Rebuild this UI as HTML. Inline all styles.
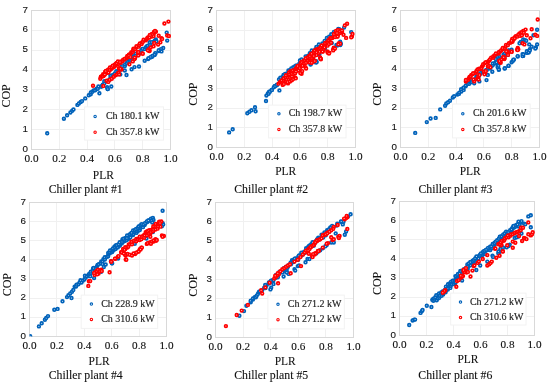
<!DOCTYPE html>
<html><head><meta charset="utf-8"><style>
html,body{margin:0;padding:0;background:#fff;width:550px;height:387px;overflow:hidden}
svg{display:block}
.yt{font-family:"Liberation Sans",sans-serif;font-size:9.8px;fill:#111;stroke:#111;stroke-width:0.1px}
.xt{font-family:"Liberation Serif",serif;font-size:11.2px;fill:#111;stroke:#111;stroke-width:0.12px}
.ax{font-family:"Liberation Serif",serif;font-size:11.5px;fill:#111;stroke:#111;stroke-width:0.08px}
.ti{font-family:"Liberation Serif",serif;font-size:11.7px;fill:#111;stroke:#111;stroke-width:0.1px}
.lg{font-family:"Liberation Serif",serif;font-size:10px;fill:#222;stroke:#222;stroke-width:0.15px}
circle{fill:#fff;stroke-width:1.1}
.m{stroke-width:1.7}
</style></head><body>
<svg width="550" height="387" viewBox="0 0 550 387">
<line x1="31.5" x2="170.5" y1="129.5" y2="129.5" stroke="#f0f0f0"/>
<line x1="31.5" x2="170.5" y1="109.5" y2="109.5" stroke="#f0f0f0"/>
<line x1="31.5" x2="170.5" y1="89.5" y2="89.5" stroke="#f0f0f0"/>
<line x1="31.5" x2="170.5" y1="70.5" y2="70.5" stroke="#f0f0f0"/>
<line x1="31.5" x2="170.5" y1="50.5" y2="50.5" stroke="#f0f0f0"/>
<line x1="31.5" x2="170.5" y1="30.5" y2="30.5" stroke="#f0f0f0"/>
<line x1="59.5" x2="59.5" y1="10.5" y2="149.5" stroke="#f0f0f0"/>
<line x1="87.5" x2="87.5" y1="10.5" y2="149.5" stroke="#f0f0f0"/>
<line x1="114.5" x2="114.5" y1="10.5" y2="149.5" stroke="#f0f0f0"/>
<line x1="142.5" x2="142.5" y1="10.5" y2="149.5" stroke="#f0f0f0"/>
<rect x="31.5" y="10.5" width="139" height="139" fill="none" stroke="#d9d9d9"/>
<text x="27.9" y="151.6" text-anchor="end" class="yt">0</text>
<text x="27.9" y="131.74" text-anchor="end" class="yt">1</text>
<text x="27.9" y="111.89" text-anchor="end" class="yt">2</text>
<text x="27.9" y="92.03" text-anchor="end" class="yt">3</text>
<text x="27.9" y="72.17" text-anchor="end" class="yt">4</text>
<text x="27.9" y="52.31" text-anchor="end" class="yt">5</text>
<text x="27.9" y="32.46" text-anchor="end" class="yt">6</text>
<text x="27.9" y="12.6" text-anchor="end" class="yt">7</text>
<text x="31.5" y="162.2" text-anchor="middle" class="xt">0.0</text>
<text x="59.3" y="162.2" text-anchor="middle" class="xt">0.2</text>
<text x="87.1" y="162.2" text-anchor="middle" class="xt">0.4</text>
<text x="114.9" y="162.2" text-anchor="middle" class="xt">0.6</text>
<text x="142.7" y="162.2" text-anchor="middle" class="xt">0.8</text>
<text x="170.5" y="162.2" text-anchor="middle" class="xt">1.0</text>
<text transform="translate(10.4,95.9) rotate(-90)" text-anchor="middle" class="ax" textLength="23.3" lengthAdjust="spacingAndGlyphs">COP</text>
<text x="103.3" y="179.2" text-anchor="middle" class="ax">PLR</text>
<text x="85.7" y="192.6" text-anchor="middle" class="ti" textLength="74" lengthAdjust="spacingAndGlyphs">Chiller plant #1</text>
<clipPath id="c0"><rect x="31.5" y="7.5" width="142" height="142"/></clipPath><g clip-path="url(#c0)">
<circle cx="47.2" cy="133.3" r="1.35" stroke="#0062ba" class="m"/>
<circle cx="63.9" cy="118.8" r="1.35" stroke="#0062ba" class="m"/>
<circle cx="67.1" cy="115.2" r="1.35" stroke="#0062ba" class="m"/>
<circle cx="70.4" cy="112.5" r="1.35" stroke="#0062ba" class="m"/>
<circle cx="72.2" cy="110.7" r="1.35" stroke="#0062ba" class="m"/>
<circle cx="73.5" cy="109.4" r="1.35" stroke="#0062ba" class="m"/>
<circle cx="77.4" cy="104.9" r="1.35" stroke="#0062ba" class="m"/>
<circle cx="78.9" cy="103.5" r="1.35" stroke="#0062ba" class="m"/>
<circle cx="80.7" cy="102" r="1.35" stroke="#0062ba" class="m"/>
<circle cx="82" cy="101.1" r="1.35" stroke="#0062ba" class="m"/>
<circle cx="85.2" cy="98.4" r="1.35" stroke="#0062ba" class="m"/>
<circle cx="88.8" cy="95.3" r="1.35" stroke="#0062ba" class="m"/>
<circle cx="90.71" cy="94.36" r="1.35" stroke="#0062ba" class="m"/>
<circle cx="90.77" cy="92.52" r="1.35" stroke="#0062ba" class="m"/>
<circle cx="92.34" cy="91.79" r="1.35" stroke="#0062ba" class="m"/>
<circle cx="93.62" cy="90.4" r="1.35" stroke="#0062ba" class="m"/>
<circle cx="95.13" cy="90.2" r="1.35" stroke="#0062ba" class="m"/>
<circle cx="96.56" cy="88.77" r="1.35" stroke="#0062ba" class="m"/>
<circle cx="97.78" cy="88.69" r="1.35" stroke="#0062ba" class="m"/>
<circle cx="98.4" cy="86.38" r="1.35" stroke="#0062ba" class="m"/>
<circle cx="101.15" cy="86.81" r="1.35" stroke="#0062ba" class="m"/>
<circle cx="102.19" cy="85.69" r="1.35" stroke="#0062ba" class="m"/>
<circle cx="102.76" cy="84.62" r="1.35" stroke="#0062ba" class="m"/>
<circle cx="104.37" cy="83.16" r="1.35" stroke="#0062ba" class="m"/>
<circle cx="104.28" cy="81.14" r="1.35" stroke="#0062ba" class="m"/>
<circle cx="106.39" cy="81.28" r="1.35" stroke="#0062ba" class="m"/>
<circle cx="108.63" cy="80.77" r="1.35" stroke="#0062ba" class="m"/>
<circle cx="109.37" cy="79.81" r="1.35" stroke="#0062ba" class="m"/>
<circle cx="110.4" cy="78.8" r="1.35" stroke="#0062ba" class="m"/>
<circle cx="110.39" cy="75.76" r="1.35" stroke="#0062ba" class="m"/>
<circle cx="112.55" cy="75.21" r="1.35" stroke="#0062ba" class="m"/>
<circle cx="114.43" cy="74.46" r="1.35" stroke="#0062ba" class="m"/>
<circle cx="114.75" cy="73.49" r="1.35" stroke="#0062ba" class="m"/>
<circle cx="116.22" cy="71.14" r="1.35" stroke="#0062ba" class="m"/>
<circle cx="118.29" cy="71.6" r="1.35" stroke="#0062ba" class="m"/>
<circle cx="118.89" cy="69.85" r="1.35" stroke="#0062ba" class="m"/>
<circle cx="120.92" cy="69.56" r="1.35" stroke="#0062ba" class="m"/>
<circle cx="121.65" cy="66.99" r="1.35" stroke="#0062ba" class="m"/>
<circle cx="122.13" cy="66.1" r="1.35" stroke="#0062ba" class="m"/>
<circle cx="124.84" cy="66.01" r="1.35" stroke="#0062ba" class="m"/>
<circle cx="125.1" cy="64.35" r="1.35" stroke="#0062ba" class="m"/>
<circle cx="126.78" cy="62.93" r="1.35" stroke="#0062ba" class="m"/>
<circle cx="128.09" cy="61.81" r="1.35" stroke="#0062ba" class="m"/>
<circle cx="129.55" cy="60.81" r="1.35" stroke="#0062ba" class="m"/>
<circle cx="130.23" cy="59.67" r="1.35" stroke="#0062ba" class="m"/>
<circle cx="131.36" cy="58.49" r="1.35" stroke="#0062ba" class="m"/>
<circle cx="132.42" cy="57.26" r="1.35" stroke="#0062ba" class="m"/>
<circle cx="133.19" cy="56.24" r="1.35" stroke="#0062ba" class="m"/>
<circle cx="135.59" cy="55.95" r="1.35" stroke="#0062ba" class="m"/>
<circle cx="135.7" cy="53.77" r="1.35" stroke="#0062ba" class="m"/>
<circle cx="138.57" cy="54.25" r="1.35" stroke="#0062ba" class="m"/>
<circle cx="139.87" cy="53.03" r="1.35" stroke="#0062ba" class="m"/>
<circle cx="141.24" cy="52.18" r="1.35" stroke="#0062ba" class="m"/>
<circle cx="141.25" cy="50.22" r="1.35" stroke="#0062ba" class="m"/>
<circle cx="142.41" cy="48.83" r="1.35" stroke="#0062ba" class="m"/>
<circle cx="144.75" cy="48.97" r="1.35" stroke="#0062ba" class="m"/>
<circle cx="145.59" cy="47.33" r="1.35" stroke="#0062ba" class="m"/>
<circle cx="146.86" cy="46.26" r="1.35" stroke="#0062ba" class="m"/>
<circle cx="147.87" cy="45.72" r="1.35" stroke="#0062ba" class="m"/>
<circle cx="149.97" cy="44.92" r="1.35" stroke="#0062ba" class="m"/>
<circle cx="149.67" cy="42.17" r="1.35" stroke="#0062ba" class="m"/>
<circle cx="151.65" cy="42.12" r="1.35" stroke="#0062ba" class="m"/>
<circle cx="153.73" cy="41.85" r="1.35" stroke="#0062ba" class="m"/>
<circle cx="154.68" cy="40.76" r="1.35" stroke="#0062ba" class="m"/>
<circle cx="120.3" cy="74.4" r="1.35" stroke="#0062ba" class="m"/>
<circle cx="126.5" cy="75" r="1.35" stroke="#0062ba" class="m"/>
<circle cx="124.8" cy="70.5" r="1.35" stroke="#0062ba" class="m"/>
<circle cx="131.6" cy="69.3" r="1.35" stroke="#0062ba" class="m"/>
<circle cx="134.5" cy="67.1" r="1.35" stroke="#0062ba" class="m"/>
<circle cx="139" cy="66.5" r="1.35" stroke="#0062ba" class="m"/>
<circle cx="144.7" cy="60.8" r="1.35" stroke="#0062ba" class="m"/>
<circle cx="148.1" cy="59.1" r="1.35" stroke="#0062ba" class="m"/>
<circle cx="150.4" cy="57.4" r="1.35" stroke="#0062ba" class="m"/>
<circle cx="152.1" cy="56.8" r="1.35" stroke="#0062ba" class="m"/>
<circle cx="154.4" cy="55.1" r="1.35" stroke="#0062ba" class="m"/>
<circle cx="155.5" cy="53.4" r="1.35" stroke="#0062ba" class="m"/>
<circle cx="158.9" cy="51.1" r="1.35" stroke="#0062ba" class="m"/>
<circle cx="160.6" cy="50.6" r="1.35" stroke="#0062ba" class="m"/>
<circle cx="163.2" cy="48" r="1.35" stroke="#0062ba" class="m"/>
<circle cx="161" cy="49.1" r="1.35" stroke="#0062ba" class="m"/>
<circle cx="158.7" cy="50.2" r="1.35" stroke="#0062ba" class="m"/>
<circle cx="161.5" cy="51.4" r="1.35" stroke="#0062ba" class="m"/>
<circle cx="155.3" cy="53.1" r="1.35" stroke="#0062ba" class="m"/>
<circle cx="154.7" cy="54.8" r="1.35" stroke="#0062ba" class="m"/>
<circle cx="152.4" cy="55.9" r="1.35" stroke="#0062ba" class="m"/>
<circle cx="150.7" cy="57.1" r="1.35" stroke="#0062ba" class="m"/>
<circle cx="148.5" cy="58.2" r="1.35" stroke="#0062ba" class="m"/>
<circle cx="99.4" cy="93.2" r="1.35" stroke="#0062ba" class="m"/>
<circle cx="107.6" cy="89.1" r="1.35" stroke="#0062ba" class="m"/>
<circle cx="111.3" cy="86.5" r="1.35" stroke="#0062ba" class="m"/>
<circle cx="107.1" cy="87.2" r="1.35" stroke="#0062ba" class="m"/>
<circle cx="107.8" cy="89.1" r="1.35" stroke="#0062ba" class="m"/>
<circle cx="135.4" cy="55.9" r="1.35" stroke="#0062ba" class="m"/>
<circle cx="134.3" cy="57.6" r="1.35" stroke="#0062ba" class="m"/>
<circle cx="166.7" cy="32.6" r="1.35" stroke="#0062ba" class="m"/>
<circle cx="167.2" cy="40.6" r="1.35" stroke="#0062ba" class="m"/>
<circle cx="155.9" cy="39.4" r="1.35" stroke="#0062ba" class="m"/>
<circle cx="155.3" cy="40.6" r="1.35" stroke="#0062ba" class="m"/>
<circle cx="154.2" cy="41.7" r="1.35" stroke="#0062ba" class="m"/>
<circle cx="156.4" cy="41.2" r="1.35" stroke="#0062ba" class="m"/>
<circle cx="100.26" cy="78.77" r="1.35" stroke="#ff0000" class="m"/>
<circle cx="100.82" cy="76.65" r="1.35" stroke="#ff0000" class="m"/>
<circle cx="101.93" cy="76.32" r="1.35" stroke="#ff0000" class="m"/>
<circle cx="103.49" cy="76.02" r="1.35" stroke="#ff0000" class="m"/>
<circle cx="103.11" cy="74.18" r="1.35" stroke="#ff0000" class="m"/>
<circle cx="105.11" cy="73.72" r="1.35" stroke="#ff0000" class="m"/>
<circle cx="105.47" cy="72.22" r="1.35" stroke="#ff0000" class="m"/>
<circle cx="107.27" cy="72.81" r="1.35" stroke="#ff0000" class="m"/>
<circle cx="108.45" cy="72.5" r="1.35" stroke="#ff0000" class="m"/>
<circle cx="108.6" cy="69.8" r="1.35" stroke="#ff0000" class="m"/>
<circle cx="109.77" cy="70.29" r="1.35" stroke="#ff0000" class="m"/>
<circle cx="111.11" cy="68.84" r="1.35" stroke="#ff0000" class="m"/>
<circle cx="111.73" cy="68.49" r="1.35" stroke="#ff0000" class="m"/>
<circle cx="112.35" cy="67.47" r="1.35" stroke="#ff0000" class="m"/>
<circle cx="113.96" cy="67.02" r="1.35" stroke="#ff0000" class="m"/>
<circle cx="114.48" cy="65.9" r="1.35" stroke="#ff0000" class="m"/>
<circle cx="115.78" cy="65.56" r="1.35" stroke="#ff0000" class="m"/>
<circle cx="116.24" cy="64" r="1.35" stroke="#ff0000" class="m"/>
<circle cx="118.28" cy="63.95" r="1.35" stroke="#ff0000" class="m"/>
<circle cx="118.67" cy="62.63" r="1.35" stroke="#ff0000" class="m"/>
<circle cx="120.79" cy="62.87" r="1.35" stroke="#ff0000" class="m"/>
<circle cx="120.54" cy="61.59" r="1.35" stroke="#ff0000" class="m"/>
<circle cx="122.43" cy="61.13" r="1.35" stroke="#ff0000" class="m"/>
<circle cx="123.15" cy="59.72" r="1.35" stroke="#ff0000" class="m"/>
<circle cx="124.43" cy="59.38" r="1.35" stroke="#ff0000" class="m"/>
<circle cx="125" cy="58.68" r="1.35" stroke="#ff0000" class="m"/>
<circle cx="126.71" cy="58.03" r="1.35" stroke="#ff0000" class="m"/>
<circle cx="127.13" cy="56.96" r="1.35" stroke="#ff0000" class="m"/>
<circle cx="127.34" cy="55.88" r="1.35" stroke="#ff0000" class="m"/>
<circle cx="128.91" cy="54.76" r="1.35" stroke="#ff0000" class="m"/>
<circle cx="129.68" cy="54.37" r="1.35" stroke="#ff0000" class="m"/>
<circle cx="131.05" cy="53.31" r="1.35" stroke="#ff0000" class="m"/>
<circle cx="131.39" cy="52.2" r="1.35" stroke="#ff0000" class="m"/>
<circle cx="132.9" cy="51.69" r="1.35" stroke="#ff0000" class="m"/>
<circle cx="133.17" cy="50.16" r="1.35" stroke="#ff0000" class="m"/>
<circle cx="133.46" cy="48.69" r="1.35" stroke="#ff0000" class="m"/>
<circle cx="135.19" cy="49.01" r="1.35" stroke="#ff0000" class="m"/>
<circle cx="136.42" cy="47.42" r="1.35" stroke="#ff0000" class="m"/>
<circle cx="136.47" cy="46.16" r="1.35" stroke="#ff0000" class="m"/>
<circle cx="138.68" cy="46.65" r="1.35" stroke="#ff0000" class="m"/>
<circle cx="139.22" cy="44.93" r="1.35" stroke="#ff0000" class="m"/>
<circle cx="139.84" cy="43.53" r="1.35" stroke="#ff0000" class="m"/>
<circle cx="141.65" cy="44.09" r="1.35" stroke="#ff0000" class="m"/>
<circle cx="141.99" cy="42.39" r="1.35" stroke="#ff0000" class="m"/>
<circle cx="142.93" cy="41.86" r="1.35" stroke="#ff0000" class="m"/>
<circle cx="143.58" cy="39.77" r="1.35" stroke="#ff0000" class="m"/>
<circle cx="145.62" cy="40.4" r="1.35" stroke="#ff0000" class="m"/>
<circle cx="146.57" cy="39.38" r="1.35" stroke="#ff0000" class="m"/>
<circle cx="147.21" cy="38.21" r="1.35" stroke="#ff0000" class="m"/>
<circle cx="147.94" cy="37.34" r="1.35" stroke="#ff0000" class="m"/>
<circle cx="149.2" cy="37.65" r="1.35" stroke="#ff0000" class="m"/>
<circle cx="149.66" cy="35.53" r="1.35" stroke="#ff0000" class="m"/>
<circle cx="150.98" cy="35.37" r="1.35" stroke="#ff0000" class="m"/>
<circle cx="151.72" cy="34.48" r="1.35" stroke="#ff0000" class="m"/>
<circle cx="153.2" cy="34.18" r="1.35" stroke="#ff0000" class="m"/>
<circle cx="154.01" cy="33" r="1.35" stroke="#ff0000" class="m"/>
<circle cx="154.33" cy="32.05" r="1.35" stroke="#ff0000" class="m"/>
<circle cx="155.93" cy="31.68" r="1.35" stroke="#ff0000" class="m"/>
<circle cx="102.75" cy="76.29" r="1.35" stroke="#ff0000" class="m"/>
<circle cx="103.98" cy="75.24" r="1.35" stroke="#ff0000" class="m"/>
<circle cx="104.87" cy="74.52" r="1.35" stroke="#ff0000" class="m"/>
<circle cx="105.21" cy="71.76" r="1.35" stroke="#ff0000" class="m"/>
<circle cx="105.86" cy="70.96" r="1.35" stroke="#ff0000" class="m"/>
<circle cx="108.04" cy="69.76" r="1.35" stroke="#ff0000" class="m"/>
<circle cx="109.41" cy="69.74" r="1.35" stroke="#ff0000" class="m"/>
<circle cx="109.94" cy="67.46" r="1.35" stroke="#ff0000" class="m"/>
<circle cx="111.78" cy="67.26" r="1.35" stroke="#ff0000" class="m"/>
<circle cx="112.7" cy="65.77" r="1.35" stroke="#ff0000" class="m"/>
<circle cx="114.67" cy="64.79" r="1.35" stroke="#ff0000" class="m"/>
<circle cx="115.68" cy="64.06" r="1.35" stroke="#ff0000" class="m"/>
<circle cx="116.61" cy="63.07" r="1.35" stroke="#ff0000" class="m"/>
<circle cx="117.91" cy="61.46" r="1.35" stroke="#ff0000" class="m"/>
<circle cx="120" cy="61.99" r="1.35" stroke="#ff0000" class="m"/>
<circle cx="93" cy="85.8" r="1.35" stroke="#ff0000" class="m"/>
<circle cx="103.3" cy="86" r="1.35" stroke="#ff0000" class="m"/>
<circle cx="106.6" cy="80.8" r="1.35" stroke="#ff0000" class="m"/>
<circle cx="108.2" cy="81.9" r="1.35" stroke="#ff0000" class="m"/>
<circle cx="109.7" cy="79.8" r="1.35" stroke="#ff0000" class="m"/>
<circle cx="111.8" cy="78.8" r="1.35" stroke="#ff0000" class="m"/>
<circle cx="113.8" cy="76.7" r="1.35" stroke="#ff0000" class="m"/>
<circle cx="115.4" cy="75.2" r="1.35" stroke="#ff0000" class="m"/>
<circle cx="116.9" cy="74.6" r="1.35" stroke="#ff0000" class="m"/>
<circle cx="118" cy="73.1" r="1.35" stroke="#ff0000" class="m"/>
<circle cx="119" cy="68.4" r="1.35" stroke="#ff0000" class="m"/>
<circle cx="120.6" cy="69" r="1.35" stroke="#ff0000" class="m"/>
<circle cx="121.6" cy="69.5" r="1.35" stroke="#ff0000" class="m"/>
<circle cx="119.1" cy="68.2" r="1.35" stroke="#ff0000" class="m"/>
<circle cx="120.3" cy="68.8" r="1.35" stroke="#ff0000" class="m"/>
<circle cx="118.6" cy="72.7" r="1.35" stroke="#ff0000" class="m"/>
<circle cx="119.1" cy="74.4" r="1.35" stroke="#ff0000" class="m"/>
<circle cx="129.4" cy="64.2" r="1.35" stroke="#ff0000" class="m"/>
<circle cx="132.8" cy="61.4" r="1.35" stroke="#ff0000" class="m"/>
<circle cx="135.1" cy="58" r="1.35" stroke="#ff0000" class="m"/>
<circle cx="134.5" cy="59.1" r="1.35" stroke="#ff0000" class="m"/>
<circle cx="138.5" cy="55.1" r="1.35" stroke="#ff0000" class="m"/>
<circle cx="137.9" cy="52.3" r="1.35" stroke="#ff0000" class="m"/>
<circle cx="142.4" cy="53.4" r="1.35" stroke="#ff0000" class="m"/>
<circle cx="149.3" cy="51.1" r="1.35" stroke="#ff0000" class="m"/>
<circle cx="138.2" cy="52" r="1.35" stroke="#ff0000" class="m"/>
<circle cx="142.8" cy="53.7" r="1.35" stroke="#ff0000" class="m"/>
<circle cx="138.2" cy="55.4" r="1.35" stroke="#ff0000" class="m"/>
<circle cx="134.8" cy="57.6" r="1.35" stroke="#ff0000" class="m"/>
<circle cx="129.1" cy="55.4" r="1.35" stroke="#ff0000" class="m"/>
<circle cx="130.3" cy="57.1" r="1.35" stroke="#ff0000" class="m"/>
<circle cx="154.2" cy="42.9" r="1.35" stroke="#ff0000" class="m"/>
<circle cx="153.6" cy="46.3" r="1.35" stroke="#ff0000" class="m"/>
<circle cx="150.7" cy="47.4" r="1.35" stroke="#ff0000" class="m"/>
<circle cx="149" cy="49.1" r="1.35" stroke="#ff0000" class="m"/>
<circle cx="149.6" cy="50.8" r="1.35" stroke="#ff0000" class="m"/>
<circle cx="147.9" cy="50.2" r="1.35" stroke="#ff0000" class="m"/>
<circle cx="158.1" cy="44.6" r="1.35" stroke="#ff0000" class="m"/>
<circle cx="160.4" cy="42.3" r="1.35" stroke="#ff0000" class="m"/>
<circle cx="161.5" cy="38.3" r="1.35" stroke="#ff0000" class="m"/>
<circle cx="162.1" cy="38.9" r="1.35" stroke="#ff0000" class="m"/>
<circle cx="158.7" cy="35.7" r="1.35" stroke="#ff0000" class="m"/>
<circle cx="167.2" cy="35.5" r="1.35" stroke="#ff0000" class="m"/>
<circle cx="168.9" cy="36" r="1.35" stroke="#ff0000" class="m"/>
<circle cx="168.4" cy="21.6" r="1.35" stroke="#ff0000" class="m"/>
<circle cx="164.4" cy="23.5" r="1.35" stroke="#ff0000" class="m"/>
<circle cx="149.6" cy="37.2" r="1.35" stroke="#ff0000" class="m"/>
<circle cx="151.9" cy="36.6" r="1.35" stroke="#ff0000" class="m"/>
<circle cx="153.6" cy="36" r="1.35" stroke="#ff0000" class="m"/>
<circle cx="152" cy="34" r="1.35" stroke="#ff0000" class="m"/>
<circle cx="154" cy="32" r="1.35" stroke="#ff0000" class="m"/>
<circle cx="150" cy="35" r="1.35" stroke="#ff0000" class="m"/>
<circle cx="155" cy="31" r="1.35" stroke="#ff0000" class="m"/>
</g>
<rect x="84.6" y="106.9" width="78.9" height="33.2" fill="#fff" stroke="#f2f2f2"/>
<circle cx="95.1" cy="116.4" r="1.2" stroke="#0062ba" stroke-width="1.1"/>
<circle cx="95.1" cy="132.2" r="1.2" stroke="#ff0000" stroke-width="1.1"/>
<text x="105.9" y="119.3" class="lg">Ch 180.1 kW</text>
<text x="105.9" y="135.2" class="lg">Ch 357.8 kW</text>
<line x1="216.5" x2="355.5" y1="127.5" y2="127.5" stroke="#f0f0f0"/>
<line x1="216.5" x2="355.5" y1="108.5" y2="108.5" stroke="#f0f0f0"/>
<line x1="216.5" x2="355.5" y1="88.5" y2="88.5" stroke="#f0f0f0"/>
<line x1="216.5" x2="355.5" y1="69.5" y2="69.5" stroke="#f0f0f0"/>
<line x1="216.5" x2="355.5" y1="49.5" y2="49.5" stroke="#f0f0f0"/>
<line x1="216.5" x2="355.5" y1="30.5" y2="30.5" stroke="#f0f0f0"/>
<line x1="244.5" x2="244.5" y1="10.5" y2="147.5" stroke="#f0f0f0"/>
<line x1="272.5" x2="272.5" y1="10.5" y2="147.5" stroke="#f0f0f0"/>
<line x1="299.5" x2="299.5" y1="10.5" y2="147.5" stroke="#f0f0f0"/>
<line x1="327.5" x2="327.5" y1="10.5" y2="147.5" stroke="#f0f0f0"/>
<rect x="216.5" y="10.5" width="139" height="137" fill="none" stroke="#d9d9d9"/>
<text x="212.9" y="149.6" text-anchor="end" class="yt">0</text>
<text x="212.9" y="130.03" text-anchor="end" class="yt">1</text>
<text x="212.9" y="110.46" text-anchor="end" class="yt">2</text>
<text x="212.9" y="90.89" text-anchor="end" class="yt">3</text>
<text x="212.9" y="71.31" text-anchor="end" class="yt">4</text>
<text x="212.9" y="51.74" text-anchor="end" class="yt">5</text>
<text x="212.9" y="32.17" text-anchor="end" class="yt">6</text>
<text x="212.9" y="12.6" text-anchor="end" class="yt">7</text>
<text x="216.5" y="160.2" text-anchor="middle" class="xt">0.0</text>
<text x="244.3" y="160.2" text-anchor="middle" class="xt">0.2</text>
<text x="272.1" y="160.2" text-anchor="middle" class="xt">0.4</text>
<text x="299.9" y="160.2" text-anchor="middle" class="xt">0.6</text>
<text x="327.7" y="160.2" text-anchor="middle" class="xt">0.8</text>
<text x="355.5" y="160.2" text-anchor="middle" class="xt">1.0</text>
<text transform="translate(196.5,94.2) rotate(-90)" text-anchor="middle" class="ax" textLength="23.3" lengthAdjust="spacingAndGlyphs">COP</text>
<text x="285.75" y="175.1" text-anchor="middle" class="ax">PLR</text>
<text x="271.2" y="192.6" text-anchor="middle" class="ti" textLength="74" lengthAdjust="spacingAndGlyphs">Chiller plant #2</text>
<clipPath id="c1"><rect x="216.5" y="7.5" width="142" height="140"/></clipPath><g clip-path="url(#c1)">
<circle cx="229.1" cy="132.4" r="1.35" stroke="#0062ba" class="m"/>
<circle cx="232.7" cy="129.3" r="1.35" stroke="#0062ba" class="m"/>
<circle cx="247.3" cy="113.2" r="1.35" stroke="#0062ba" class="m"/>
<circle cx="249.4" cy="111.7" r="1.35" stroke="#0062ba" class="m"/>
<circle cx="251.5" cy="110.3" r="1.35" stroke="#0062ba" class="m"/>
<circle cx="255" cy="107.2" r="1.35" stroke="#0062ba" class="m"/>
<circle cx="255.6" cy="111.3" r="1.35" stroke="#0062ba" class="m"/>
<circle cx="266" cy="101" r="1.35" stroke="#0062ba" class="m"/>
<circle cx="266.4" cy="95.6" r="1.35" stroke="#0062ba" class="m"/>
<circle cx="267.8" cy="93.5" r="1.35" stroke="#0062ba" class="m"/>
<circle cx="269.1" cy="91.7" r="1.35" stroke="#0062ba" class="m"/>
<circle cx="271.6" cy="90" r="1.35" stroke="#0062ba" class="m"/>
<circle cx="274.7" cy="86.3" r="1.35" stroke="#0062ba" class="m"/>
<circle cx="276.7" cy="85.2" r="1.35" stroke="#0062ba" class="m"/>
<circle cx="279.4" cy="90.4" r="1.35" stroke="#0062ba" class="m"/>
<circle cx="268.6" cy="93.8" r="1.35" stroke="#0062ba" class="m"/>
<circle cx="269.9" cy="91.8" r="1.35" stroke="#0062ba" class="m"/>
<circle cx="271.9" cy="89.9" r="1.35" stroke="#0062ba" class="m"/>
<circle cx="273.8" cy="87.3" r="1.35" stroke="#0062ba" class="m"/>
<circle cx="275.1" cy="86" r="1.35" stroke="#0062ba" class="m"/>
<circle cx="277" cy="84.7" r="1.35" stroke="#0062ba" class="m"/>
<circle cx="310.6" cy="64" r="1.35" stroke="#0062ba" class="m"/>
<circle cx="313.9" cy="60.8" r="1.35" stroke="#0062ba" class="m"/>
<circle cx="316.4" cy="62.1" r="1.35" stroke="#0062ba" class="m"/>
<circle cx="311.9" cy="62.1" r="1.35" stroke="#0062ba" class="m"/>
<circle cx="299.7" cy="67.3" r="1.35" stroke="#0062ba" class="m"/>
<circle cx="301.6" cy="65.3" r="1.35" stroke="#0062ba" class="m"/>
<circle cx="344.1" cy="27.6" r="1.35" stroke="#0062ba" class="m"/>
<circle cx="351.2" cy="32.1" r="1.35" stroke="#0062ba" class="m"/>
<circle cx="331.8" cy="43.1" r="1.35" stroke="#0062ba" class="m"/>
<circle cx="336.4" cy="45" r="1.35" stroke="#0062ba" class="m"/>
<circle cx="340.2" cy="41.8" r="1.35" stroke="#0062ba" class="m"/>
<circle cx="340.9" cy="43.7" r="1.35" stroke="#0062ba" class="m"/>
<circle cx="324.7" cy="48.2" r="1.35" stroke="#0062ba" class="m"/>
<circle cx="322.8" cy="48.9" r="1.35" stroke="#0062ba" class="m"/>
<circle cx="318.9" cy="54" r="1.35" stroke="#0062ba" class="m"/>
<circle cx="316.3" cy="61.2" r="1.35" stroke="#0062ba" class="m"/>
<circle cx="315.7" cy="62.4" r="1.35" stroke="#0062ba" class="m"/>
<circle cx="313.1" cy="57.9" r="1.35" stroke="#0062ba" class="m"/>
<circle cx="339.6" cy="30.2" r="1.35" stroke="#0062ba" class="m"/>
<circle cx="338.3" cy="28.9" r="1.35" stroke="#0062ba" class="m"/>
<circle cx="319.5" cy="53.9" r="1.35" stroke="#0062ba" class="m"/>
<circle cx="322.5" cy="48.6" r="1.35" stroke="#0062ba" class="m"/>
<circle cx="324.9" cy="48.6" r="1.35" stroke="#0062ba" class="m"/>
<circle cx="316.5" cy="62.2" r="1.35" stroke="#0062ba" class="m"/>
<circle cx="310.6" cy="64.6" r="1.35" stroke="#0062ba" class="m"/>
<circle cx="337.3" cy="45.6" r="1.35" stroke="#0062ba" class="m"/>
<circle cx="340.3" cy="45" r="1.35" stroke="#0062ba" class="m"/>
<circle cx="278.99" cy="79.36" r="1.35" stroke="#0062ba" class="m"/>
<circle cx="280.34" cy="77.72" r="1.35" stroke="#0062ba" class="m"/>
<circle cx="282.78" cy="76.92" r="1.35" stroke="#0062ba" class="m"/>
<circle cx="283.5" cy="74.89" r="1.35" stroke="#0062ba" class="m"/>
<circle cx="285.13" cy="73.85" r="1.35" stroke="#0062ba" class="m"/>
<circle cx="287.09" cy="73.47" r="1.35" stroke="#0062ba" class="m"/>
<circle cx="288.42" cy="70.4" r="1.35" stroke="#0062ba" class="m"/>
<circle cx="290.45" cy="69.85" r="1.35" stroke="#0062ba" class="m"/>
<circle cx="291.27" cy="68.52" r="1.35" stroke="#0062ba" class="m"/>
<circle cx="293.32" cy="67.21" r="1.35" stroke="#0062ba" class="m"/>
<circle cx="295.14" cy="66.16" r="1.35" stroke="#0062ba" class="m"/>
<circle cx="296.32" cy="65.42" r="1.35" stroke="#0062ba" class="m"/>
<circle cx="299.31" cy="63.6" r="1.35" stroke="#0062ba" class="m"/>
<circle cx="299.96" cy="60.57" r="1.35" stroke="#0062ba" class="m"/>
<circle cx="301.6" cy="59.37" r="1.35" stroke="#0062ba" class="m"/>
<circle cx="305.58" cy="56.35" r="1.35" stroke="#0062ba" class="m"/>
<circle cx="307.93" cy="55.87" r="1.35" stroke="#0062ba" class="m"/>
<circle cx="309.8" cy="53.3" r="1.35" stroke="#0062ba" class="m"/>
<circle cx="311.75" cy="50.41" r="1.35" stroke="#0062ba" class="m"/>
<circle cx="315.36" cy="49.43" r="1.35" stroke="#0062ba" class="m"/>
<circle cx="316.35" cy="46.99" r="1.35" stroke="#0062ba" class="m"/>
<circle cx="318.88" cy="44.39" r="1.35" stroke="#0062ba" class="m"/>
<circle cx="322.4" cy="43.49" r="1.35" stroke="#0062ba" class="m"/>
<circle cx="324.67" cy="40.86" r="1.35" stroke="#0062ba" class="m"/>
<circle cx="326.86" cy="38.04" r="1.35" stroke="#0062ba" class="m"/>
<circle cx="329.14" cy="36.73" r="1.35" stroke="#0062ba" class="m"/>
<circle cx="331.25" cy="34.28" r="1.35" stroke="#0062ba" class="m"/>
<circle cx="333.92" cy="32.07" r="1.35" stroke="#0062ba" class="m"/>
<circle cx="336.22" cy="32.17" r="1.35" stroke="#0062ba" class="m"/>
<circle cx="339.22" cy="29.11" r="1.35" stroke="#0062ba" class="m"/>
<circle cx="278.56" cy="83.63" r="1.35" stroke="#ff0000" class="m"/>
<circle cx="279.89" cy="82.13" r="1.35" stroke="#ff0000" class="m"/>
<circle cx="280.94" cy="81.54" r="1.35" stroke="#ff0000" class="m"/>
<circle cx="281.75" cy="80.57" r="1.35" stroke="#ff0000" class="m"/>
<circle cx="283.62" cy="79.69" r="1.35" stroke="#ff0000" class="m"/>
<circle cx="283.68" cy="78.19" r="1.35" stroke="#ff0000" class="m"/>
<circle cx="285.58" cy="77.96" r="1.35" stroke="#ff0000" class="m"/>
<circle cx="286" cy="75.28" r="1.35" stroke="#ff0000" class="m"/>
<circle cx="288.72" cy="75.55" r="1.35" stroke="#ff0000" class="m"/>
<circle cx="289.13" cy="74.14" r="1.35" stroke="#ff0000" class="m"/>
<circle cx="289.08" cy="72.38" r="1.35" stroke="#ff0000" class="m"/>
<circle cx="290.5" cy="71.3" r="1.35" stroke="#ff0000" class="m"/>
<circle cx="291.65" cy="70.85" r="1.35" stroke="#ff0000" class="m"/>
<circle cx="292.97" cy="70.37" r="1.35" stroke="#ff0000" class="m"/>
<circle cx="294.89" cy="69.83" r="1.35" stroke="#ff0000" class="m"/>
<circle cx="295.77" cy="68.5" r="1.35" stroke="#ff0000" class="m"/>
<circle cx="296.9" cy="67.61" r="1.35" stroke="#ff0000" class="m"/>
<circle cx="297.43" cy="66.04" r="1.35" stroke="#ff0000" class="m"/>
<circle cx="299.93" cy="65.99" r="1.35" stroke="#ff0000" class="m"/>
<circle cx="300.53" cy="64.64" r="1.35" stroke="#ff0000" class="m"/>
<circle cx="300.59" cy="63.17" r="1.35" stroke="#ff0000" class="m"/>
<circle cx="301.45" cy="61.92" r="1.35" stroke="#ff0000" class="m"/>
<circle cx="303.36" cy="61.18" r="1.35" stroke="#ff0000" class="m"/>
<circle cx="304.51" cy="60.11" r="1.35" stroke="#ff0000" class="m"/>
<circle cx="306.37" cy="59.79" r="1.35" stroke="#ff0000" class="m"/>
<circle cx="305.91" cy="58.32" r="1.35" stroke="#ff0000" class="m"/>
<circle cx="308.01" cy="57.2" r="1.35" stroke="#ff0000" class="m"/>
<circle cx="309.06" cy="56.04" r="1.35" stroke="#ff0000" class="m"/>
<circle cx="309.89" cy="55.95" r="1.35" stroke="#ff0000" class="m"/>
<circle cx="310.98" cy="54.07" r="1.35" stroke="#ff0000" class="m"/>
<circle cx="311.72" cy="53.65" r="1.35" stroke="#ff0000" class="m"/>
<circle cx="314" cy="53.03" r="1.35" stroke="#ff0000" class="m"/>
<circle cx="313.84" cy="51.71" r="1.35" stroke="#ff0000" class="m"/>
<circle cx="314.68" cy="50.51" r="1.35" stroke="#ff0000" class="m"/>
<circle cx="316.42" cy="49.45" r="1.35" stroke="#ff0000" class="m"/>
<circle cx="317.75" cy="49.16" r="1.35" stroke="#ff0000" class="m"/>
<circle cx="319" cy="48.95" r="1.35" stroke="#ff0000" class="m"/>
<circle cx="319.95" cy="47.94" r="1.35" stroke="#ff0000" class="m"/>
<circle cx="320.75" cy="46.68" r="1.35" stroke="#ff0000" class="m"/>
<circle cx="321.71" cy="45.48" r="1.35" stroke="#ff0000" class="m"/>
<circle cx="324.06" cy="45.1" r="1.35" stroke="#ff0000" class="m"/>
<circle cx="324.84" cy="44.71" r="1.35" stroke="#ff0000" class="m"/>
<circle cx="325.22" cy="43.03" r="1.35" stroke="#ff0000" class="m"/>
<circle cx="327.1" cy="42.22" r="1.35" stroke="#ff0000" class="m"/>
<circle cx="328.18" cy="42.33" r="1.35" stroke="#ff0000" class="m"/>
<circle cx="328.37" cy="40.13" r="1.35" stroke="#ff0000" class="m"/>
<circle cx="329.96" cy="39.05" r="1.35" stroke="#ff0000" class="m"/>
<circle cx="330.47" cy="37.93" r="1.35" stroke="#ff0000" class="m"/>
<circle cx="332.22" cy="37.98" r="1.35" stroke="#ff0000" class="m"/>
<circle cx="333.55" cy="36.97" r="1.35" stroke="#ff0000" class="m"/>
<circle cx="334.64" cy="35.69" r="1.35" stroke="#ff0000" class="m"/>
<circle cx="336.31" cy="34.46" r="1.35" stroke="#ff0000" class="m"/>
<circle cx="337.75" cy="34.39" r="1.35" stroke="#ff0000" class="m"/>
<circle cx="337.7" cy="32.43" r="1.35" stroke="#ff0000" class="m"/>
<circle cx="340.33" cy="32.22" r="1.35" stroke="#ff0000" class="m"/>
<circle cx="340.2" cy="30.56" r="1.35" stroke="#ff0000" class="m"/>
<circle cx="282.76" cy="84.88" r="1.35" stroke="#ff0000" class="m"/>
<circle cx="283.88" cy="83.92" r="1.35" stroke="#ff0000" class="m"/>
<circle cx="285.77" cy="81.4" r="1.35" stroke="#ff0000" class="m"/>
<circle cx="286.36" cy="79.67" r="1.35" stroke="#ff0000" class="m"/>
<circle cx="288.65" cy="79.71" r="1.35" stroke="#ff0000" class="m"/>
<circle cx="290.17" cy="77.73" r="1.35" stroke="#ff0000" class="m"/>
<circle cx="291.97" cy="76.42" r="1.35" stroke="#ff0000" class="m"/>
<circle cx="293.3" cy="73.96" r="1.35" stroke="#ff0000" class="m"/>
<circle cx="295.04" cy="73.44" r="1.35" stroke="#ff0000" class="m"/>
<circle cx="295.98" cy="71.42" r="1.35" stroke="#ff0000" class="m"/>
<circle cx="298.84" cy="70.38" r="1.35" stroke="#ff0000" class="m"/>
<circle cx="299.85" cy="68.1" r="1.35" stroke="#ff0000" class="m"/>
<circle cx="301.69" cy="66.28" r="1.35" stroke="#ff0000" class="m"/>
<circle cx="302.52" cy="65.7" r="1.35" stroke="#ff0000" class="m"/>
<circle cx="304.33" cy="63.59" r="1.35" stroke="#ff0000" class="m"/>
<circle cx="306.07" cy="62.79" r="1.35" stroke="#ff0000" class="m"/>
<circle cx="307.81" cy="60.67" r="1.35" stroke="#ff0000" class="m"/>
<circle cx="310.15" cy="60.42" r="1.35" stroke="#ff0000" class="m"/>
<circle cx="312.11" cy="58.11" r="1.35" stroke="#ff0000" class="m"/>
<circle cx="313.38" cy="56.81" r="1.35" stroke="#ff0000" class="m"/>
<circle cx="313.82" cy="55.1" r="1.35" stroke="#ff0000" class="m"/>
<circle cx="316.38" cy="54.93" r="1.35" stroke="#ff0000" class="m"/>
<circle cx="318.74" cy="52.97" r="1.35" stroke="#ff0000" class="m"/>
<circle cx="319.4" cy="51.66" r="1.35" stroke="#ff0000" class="m"/>
<circle cx="321.74" cy="49.96" r="1.35" stroke="#ff0000" class="m"/>
<circle cx="323.63" cy="49.04" r="1.35" stroke="#ff0000" class="m"/>
<circle cx="324.61" cy="47.18" r="1.35" stroke="#ff0000" class="m"/>
<circle cx="327.46" cy="45.66" r="1.35" stroke="#ff0000" class="m"/>
<circle cx="328.98" cy="43.95" r="1.35" stroke="#ff0000" class="m"/>
<circle cx="331.03" cy="42.76" r="1.35" stroke="#ff0000" class="m"/>
<circle cx="334" cy="34" r="1.35" stroke="#ff0000" class="m"/>
<circle cx="336" cy="32.5" r="1.35" stroke="#ff0000" class="m"/>
<circle cx="338" cy="34.5" r="1.35" stroke="#ff0000" class="m"/>
<circle cx="340" cy="33" r="1.35" stroke="#ff0000" class="m"/>
<circle cx="342" cy="31.5" r="1.35" stroke="#ff0000" class="m"/>
<circle cx="337" cy="36.5" r="1.35" stroke="#ff0000" class="m"/>
<circle cx="335" cy="37" r="1.35" stroke="#ff0000" class="m"/>
<circle cx="288" cy="83.4" r="1.35" stroke="#ff0000" class="m"/>
<circle cx="287.4" cy="82.1" r="1.35" stroke="#ff0000" class="m"/>
<circle cx="290" cy="81.5" r="1.35" stroke="#ff0000" class="m"/>
<circle cx="291.9" cy="80.2" r="1.35" stroke="#ff0000" class="m"/>
<circle cx="293.2" cy="78.9" r="1.35" stroke="#ff0000" class="m"/>
<circle cx="295.1" cy="77.6" r="1.35" stroke="#ff0000" class="m"/>
<circle cx="295.8" cy="78.3" r="1.35" stroke="#ff0000" class="m"/>
<circle cx="300.9" cy="71.8" r="1.35" stroke="#ff0000" class="m"/>
<circle cx="301.6" cy="73.7" r="1.35" stroke="#ff0000" class="m"/>
<circle cx="300.3" cy="73.1" r="1.35" stroke="#ff0000" class="m"/>
<circle cx="302.2" cy="71.1" r="1.35" stroke="#ff0000" class="m"/>
<circle cx="305.5" cy="67.3" r="1.35" stroke="#ff0000" class="m"/>
<circle cx="306.1" cy="68.6" r="1.35" stroke="#ff0000" class="m"/>
<circle cx="309.3" cy="61.5" r="1.35" stroke="#ff0000" class="m"/>
<circle cx="311.3" cy="62.8" r="1.35" stroke="#ff0000" class="m"/>
<circle cx="312.6" cy="60.8" r="1.35" stroke="#ff0000" class="m"/>
<circle cx="314.5" cy="60.8" r="1.35" stroke="#ff0000" class="m"/>
<circle cx="347.1" cy="23.7" r="1.35" stroke="#ff0000" class="m"/>
<circle cx="344.8" cy="25.4" r="1.35" stroke="#ff0000" class="m"/>
<circle cx="343.5" cy="34.7" r="1.35" stroke="#ff0000" class="m"/>
<circle cx="346.1" cy="37.9" r="1.35" stroke="#ff0000" class="m"/>
<circle cx="351.9" cy="36.6" r="1.35" stroke="#ff0000" class="m"/>
<circle cx="352.5" cy="34" r="1.35" stroke="#ff0000" class="m"/>
<circle cx="351.2" cy="37.3" r="1.35" stroke="#ff0000" class="m"/>
<circle cx="337.7" cy="36.6" r="1.35" stroke="#ff0000" class="m"/>
<circle cx="338.9" cy="43.1" r="1.35" stroke="#ff0000" class="m"/>
<circle cx="340.2" cy="43.7" r="1.35" stroke="#ff0000" class="m"/>
<circle cx="338.3" cy="44.4" r="1.35" stroke="#ff0000" class="m"/>
<circle cx="333.8" cy="47.6" r="1.35" stroke="#ff0000" class="m"/>
<circle cx="333.1" cy="49.5" r="1.35" stroke="#ff0000" class="m"/>
<circle cx="329.3" cy="52.8" r="1.35" stroke="#ff0000" class="m"/>
<circle cx="327.3" cy="51.5" r="1.35" stroke="#ff0000" class="m"/>
<circle cx="322.8" cy="51.5" r="1.35" stroke="#ff0000" class="m"/>
<circle cx="320.2" cy="57.9" r="1.35" stroke="#ff0000" class="m"/>
<circle cx="320.9" cy="59.2" r="1.35" stroke="#ff0000" class="m"/>
<circle cx="313.8" cy="56" r="1.35" stroke="#ff0000" class="m"/>
<circle cx="311.8" cy="61.2" r="1.35" stroke="#ff0000" class="m"/>
<circle cx="309.9" cy="62.4" r="1.35" stroke="#ff0000" class="m"/>
<circle cx="313.8" cy="61.2" r="1.35" stroke="#ff0000" class="m"/>
<circle cx="320.1" cy="57.5" r="1.35" stroke="#ff0000" class="m"/>
<circle cx="320.7" cy="58.7" r="1.35" stroke="#ff0000" class="m"/>
<circle cx="322.5" cy="51.5" r="1.35" stroke="#ff0000" class="m"/>
<circle cx="327.8" cy="52.7" r="1.35" stroke="#ff0000" class="m"/>
<circle cx="329" cy="53.6" r="1.35" stroke="#ff0000" class="m"/>
<circle cx="333.8" cy="49.2" r="1.35" stroke="#ff0000" class="m"/>
<circle cx="333.2" cy="50.4" r="1.35" stroke="#ff0000" class="m"/>
<circle cx="335" cy="48.6" r="1.35" stroke="#ff0000" class="m"/>
<circle cx="311.8" cy="62.8" r="1.35" stroke="#ff0000" class="m"/>
<circle cx="314.8" cy="61" r="1.35" stroke="#ff0000" class="m"/>
<circle cx="336" cy="31" r="1.35" stroke="#ff0000" class="m"/>
<circle cx="338" cy="30" r="1.35" stroke="#ff0000" class="m"/>
<circle cx="340" cy="31.5" r="1.35" stroke="#ff0000" class="m"/>
<circle cx="342" cy="30.5" r="1.35" stroke="#ff0000" class="m"/>
<circle cx="337" cy="33" r="1.35" stroke="#ff0000" class="m"/>
</g>
<rect x="268.6" y="105.1" width="77.4" height="32.8" fill="#fff" stroke="#f2f2f2"/>
<circle cx="278.9" cy="113.8" r="1.2" stroke="#0062ba" stroke-width="1.1"/>
<circle cx="278.9" cy="129.4" r="1.2" stroke="#ff0000" stroke-width="1.1"/>
<text x="288.7" y="116.3" class="lg">Ch 198.7 kW</text>
<text x="288.7" y="131.8" class="lg">Ch 357.8 kW</text>
<line x1="400.5" x2="539.5" y1="127.5" y2="127.5" stroke="#f0f0f0"/>
<line x1="400.5" x2="539.5" y1="108.5" y2="108.5" stroke="#f0f0f0"/>
<line x1="400.5" x2="539.5" y1="88.5" y2="88.5" stroke="#f0f0f0"/>
<line x1="400.5" x2="539.5" y1="69.5" y2="69.5" stroke="#f0f0f0"/>
<line x1="400.5" x2="539.5" y1="49.5" y2="49.5" stroke="#f0f0f0"/>
<line x1="400.5" x2="539.5" y1="30.5" y2="30.5" stroke="#f0f0f0"/>
<line x1="428.5" x2="428.5" y1="10.5" y2="147.5" stroke="#f0f0f0"/>
<line x1="456.5" x2="456.5" y1="10.5" y2="147.5" stroke="#f0f0f0"/>
<line x1="483.5" x2="483.5" y1="10.5" y2="147.5" stroke="#f0f0f0"/>
<line x1="511.5" x2="511.5" y1="10.5" y2="147.5" stroke="#f0f0f0"/>
<rect x="400.5" y="10.5" width="139" height="137" fill="none" stroke="#d9d9d9"/>
<text x="396.9" y="149.6" text-anchor="end" class="yt">0</text>
<text x="396.9" y="130.03" text-anchor="end" class="yt">1</text>
<text x="396.9" y="110.46" text-anchor="end" class="yt">2</text>
<text x="396.9" y="90.89" text-anchor="end" class="yt">3</text>
<text x="396.9" y="71.31" text-anchor="end" class="yt">4</text>
<text x="396.9" y="51.74" text-anchor="end" class="yt">5</text>
<text x="396.9" y="32.17" text-anchor="end" class="yt">6</text>
<text x="396.9" y="12.6" text-anchor="end" class="yt">7</text>
<text x="400.5" y="160.2" text-anchor="middle" class="xt">0.0</text>
<text x="428.3" y="160.2" text-anchor="middle" class="xt">0.2</text>
<text x="456.1" y="160.2" text-anchor="middle" class="xt">0.4</text>
<text x="483.9" y="160.2" text-anchor="middle" class="xt">0.6</text>
<text x="511.7" y="160.2" text-anchor="middle" class="xt">0.8</text>
<text x="539.5" y="160.2" text-anchor="middle" class="xt">1.0</text>
<text transform="translate(380.9,94.2) rotate(-90)" text-anchor="middle" class="ax" textLength="23.3" lengthAdjust="spacingAndGlyphs">COP</text>
<text x="470.25" y="175.1" text-anchor="middle" class="ax">PLR</text>
<text x="455.45" y="192.6" text-anchor="middle" class="ti" textLength="74" lengthAdjust="spacingAndGlyphs">Chiller plant #3</text>
<clipPath id="c2"><rect x="400.5" y="7.5" width="142" height="140"/></clipPath><g clip-path="url(#c2)">
<circle cx="415.2" cy="132.9" r="1.35" stroke="#0062ba" class="m"/>
<circle cx="426.8" cy="122.1" r="1.35" stroke="#0062ba" class="m"/>
<circle cx="430.6" cy="118.5" r="1.35" stroke="#0062ba" class="m"/>
<circle cx="435.7" cy="117.9" r="1.35" stroke="#0062ba" class="m"/>
<circle cx="440.2" cy="109.4" r="1.35" stroke="#0062ba" class="m"/>
<circle cx="445.1" cy="105.8" r="1.35" stroke="#0062ba" class="m"/>
<circle cx="446.3" cy="103.5" r="1.35" stroke="#0062ba" class="m"/>
<circle cx="448.1" cy="102.2" r="1.35" stroke="#0062ba" class="m"/>
<circle cx="450" cy="100.7" r="1.35" stroke="#0062ba" class="m"/>
<circle cx="452.8" cy="97.5" r="1.35" stroke="#0062ba" class="m"/>
<circle cx="454.1" cy="96.2" r="1.35" stroke="#0062ba" class="m"/>
<circle cx="457.42" cy="94.49" r="1.35" stroke="#0062ba" class="m"/>
<circle cx="458.91" cy="93.9" r="1.35" stroke="#0062ba" class="m"/>
<circle cx="459.28" cy="92.62" r="1.35" stroke="#0062ba" class="m"/>
<circle cx="461.38" cy="91.55" r="1.35" stroke="#0062ba" class="m"/>
<circle cx="461.12" cy="89.32" r="1.35" stroke="#0062ba" class="m"/>
<circle cx="463.65" cy="89.91" r="1.35" stroke="#0062ba" class="m"/>
<circle cx="463.46" cy="87.71" r="1.35" stroke="#0062ba" class="m"/>
<circle cx="465.52" cy="86.31" r="1.35" stroke="#0062ba" class="m"/>
<circle cx="465.96" cy="85.44" r="1.35" stroke="#0062ba" class="m"/>
<circle cx="467.77" cy="83.9" r="1.35" stroke="#0062ba" class="m"/>
<circle cx="469.21" cy="83.75" r="1.35" stroke="#0062ba" class="m"/>
<circle cx="470.67" cy="82.18" r="1.35" stroke="#0062ba" class="m"/>
<circle cx="471.57" cy="81.75" r="1.35" stroke="#0062ba" class="m"/>
<circle cx="472.14" cy="79.74" r="1.35" stroke="#0062ba" class="m"/>
<circle cx="474.59" cy="79.82" r="1.35" stroke="#0062ba" class="m"/>
<circle cx="476.02" cy="78.7" r="1.35" stroke="#0062ba" class="m"/>
<circle cx="476.38" cy="76.54" r="1.35" stroke="#0062ba" class="m"/>
<circle cx="478.57" cy="76.78" r="1.35" stroke="#0062ba" class="m"/>
<circle cx="479.84" cy="74.2" r="1.35" stroke="#0062ba" class="m"/>
<circle cx="480.36" cy="73.09" r="1.35" stroke="#0062ba" class="m"/>
<circle cx="482.52" cy="72.32" r="1.35" stroke="#0062ba" class="m"/>
<circle cx="484.03" cy="72.26" r="1.35" stroke="#0062ba" class="m"/>
<circle cx="485.45" cy="70.46" r="1.35" stroke="#0062ba" class="m"/>
<circle cx="486.76" cy="70.05" r="1.35" stroke="#0062ba" class="m"/>
<circle cx="488.12" cy="68.28" r="1.35" stroke="#0062ba" class="m"/>
<circle cx="489.97" cy="68.45" r="1.35" stroke="#0062ba" class="m"/>
<circle cx="491.51" cy="66.42" r="1.35" stroke="#0062ba" class="m"/>
<circle cx="492.81" cy="65.02" r="1.35" stroke="#0062ba" class="m"/>
<circle cx="492.89" cy="63.41" r="1.35" stroke="#0062ba" class="m"/>
<circle cx="495.12" cy="62.97" r="1.35" stroke="#0062ba" class="m"/>
<circle cx="497.12" cy="62.99" r="1.35" stroke="#0062ba" class="m"/>
<circle cx="497.48" cy="59.85" r="1.35" stroke="#0062ba" class="m"/>
<circle cx="498.74" cy="58.51" r="1.35" stroke="#0062ba" class="m"/>
<circle cx="500.44" cy="58.24" r="1.35" stroke="#0062ba" class="m"/>
<circle cx="502.91" cy="58.44" r="1.35" stroke="#0062ba" class="m"/>
<circle cx="503.84" cy="57.1" r="1.35" stroke="#0062ba" class="m"/>
<circle cx="504.69" cy="56.14" r="1.35" stroke="#0062ba" class="m"/>
<circle cx="505.81" cy="54.59" r="1.35" stroke="#0062ba" class="m"/>
<circle cx="506.79" cy="52.6" r="1.35" stroke="#0062ba" class="m"/>
<circle cx="503.54" cy="54.42" r="1.35" stroke="#0062ba" class="m"/>
<circle cx="504.98" cy="53.38" r="1.35" stroke="#0062ba" class="m"/>
<circle cx="507.79" cy="51.91" r="1.35" stroke="#0062ba" class="m"/>
<circle cx="508.77" cy="50.55" r="1.35" stroke="#0062ba" class="m"/>
<circle cx="511.6" cy="49.72" r="1.35" stroke="#0062ba" class="m"/>
<circle cx="486.5" cy="80.1" r="1.35" stroke="#0062ba" class="m"/>
<circle cx="479.4" cy="81.4" r="1.35" stroke="#0062ba" class="m"/>
<circle cx="474.2" cy="83.3" r="1.35" stroke="#0062ba" class="m"/>
<circle cx="487.8" cy="74.9" r="1.35" stroke="#0062ba" class="m"/>
<circle cx="492.3" cy="71.7" r="1.35" stroke="#0062ba" class="m"/>
<circle cx="498.8" cy="69.8" r="1.35" stroke="#0062ba" class="m"/>
<circle cx="498.1" cy="67.2" r="1.35" stroke="#0062ba" class="m"/>
<circle cx="504.6" cy="68.5" r="1.35" stroke="#0062ba" class="m"/>
<circle cx="508.4" cy="65.9" r="1.35" stroke="#0062ba" class="m"/>
<circle cx="507.2" cy="51.7" r="1.35" stroke="#0062ba" class="m"/>
<circle cx="507.8" cy="54.9" r="1.35" stroke="#0062ba" class="m"/>
<circle cx="537.1" cy="29.8" r="1.35" stroke="#0062ba" class="m"/>
<circle cx="533.5" cy="35.3" r="1.35" stroke="#0062ba" class="m"/>
<circle cx="523.2" cy="39.5" r="1.35" stroke="#0062ba" class="m"/>
<circle cx="525" cy="40.1" r="1.35" stroke="#0062ba" class="m"/>
<circle cx="526.2" cy="40.7" r="1.35" stroke="#0062ba" class="m"/>
<circle cx="520.7" cy="41.9" r="1.35" stroke="#0062ba" class="m"/>
<circle cx="519.5" cy="43.2" r="1.35" stroke="#0062ba" class="m"/>
<circle cx="529.2" cy="44.4" r="1.35" stroke="#0062ba" class="m"/>
<circle cx="531.7" cy="46.8" r="1.35" stroke="#0062ba" class="m"/>
<circle cx="529.8" cy="49.2" r="1.35" stroke="#0062ba" class="m"/>
<circle cx="528" cy="51.1" r="1.35" stroke="#0062ba" class="m"/>
<circle cx="526.8" cy="52.9" r="1.35" stroke="#0062ba" class="m"/>
<circle cx="528.6" cy="52.3" r="1.35" stroke="#0062ba" class="m"/>
<circle cx="537.1" cy="44.4" r="1.35" stroke="#0062ba" class="m"/>
<circle cx="535.9" cy="47.4" r="1.35" stroke="#0062ba" class="m"/>
<circle cx="535.3" cy="48.6" r="1.35" stroke="#0062ba" class="m"/>
<circle cx="522.6" cy="54.1" r="1.35" stroke="#0062ba" class="m"/>
<circle cx="523.2" cy="55.9" r="1.35" stroke="#0062ba" class="m"/>
<circle cx="517.7" cy="56.5" r="1.35" stroke="#0062ba" class="m"/>
<circle cx="514" cy="59.6" r="1.35" stroke="#0062ba" class="m"/>
<circle cx="498.9" cy="55.9" r="1.35" stroke="#0062ba" class="m"/>
<circle cx="497" cy="57.1" r="1.35" stroke="#0062ba" class="m"/>
<circle cx="495.8" cy="59" r="1.35" stroke="#0062ba" class="m"/>
<circle cx="498.9" cy="69.4" r="1.35" stroke="#0062ba" class="m"/>
<circle cx="504.9" cy="68.2" r="1.35" stroke="#0062ba" class="m"/>
<circle cx="508.6" cy="65.8" r="1.35" stroke="#0062ba" class="m"/>
<circle cx="511.6" cy="62.2" r="1.35" stroke="#0062ba" class="m"/>
<circle cx="512.8" cy="60.9" r="1.35" stroke="#0062ba" class="m"/>
<circle cx="513.4" cy="59.7" r="1.35" stroke="#0062ba" class="m"/>
<circle cx="517.7" cy="56.1" r="1.35" stroke="#0062ba" class="m"/>
<circle cx="522.6" cy="56.1" r="1.35" stroke="#0062ba" class="m"/>
<circle cx="523.2" cy="54.3" r="1.35" stroke="#0062ba" class="m"/>
<circle cx="526.8" cy="51.2" r="1.35" stroke="#0062ba" class="m"/>
<circle cx="528.6" cy="52.4" r="1.35" stroke="#0062ba" class="m"/>
<circle cx="529.8" cy="50.6" r="1.35" stroke="#0062ba" class="m"/>
<circle cx="495.2" cy="63.4" r="1.35" stroke="#0062ba" class="m"/>
<circle cx="496.4" cy="62.2" r="1.35" stroke="#0062ba" class="m"/>
<circle cx="497.6" cy="67" r="1.35" stroke="#0062ba" class="m"/>
<circle cx="498.3" cy="65.8" r="1.35" stroke="#0062ba" class="m"/>
<circle cx="506.2" cy="51.8" r="1.35" stroke="#0062ba" class="m"/>
<circle cx="508.6" cy="50.6" r="1.35" stroke="#0062ba" class="m"/>
<circle cx="465.85" cy="81.47" r="1.35" stroke="#ff0000" class="m"/>
<circle cx="466.87" cy="79.99" r="1.35" stroke="#ff0000" class="m"/>
<circle cx="468.05" cy="79.77" r="1.35" stroke="#ff0000" class="m"/>
<circle cx="469.06" cy="78.12" r="1.35" stroke="#ff0000" class="m"/>
<circle cx="469.52" cy="76.97" r="1.35" stroke="#ff0000" class="m"/>
<circle cx="470.42" cy="76.53" r="1.35" stroke="#ff0000" class="m"/>
<circle cx="471.39" cy="74.86" r="1.35" stroke="#ff0000" class="m"/>
<circle cx="472.75" cy="74.08" r="1.35" stroke="#ff0000" class="m"/>
<circle cx="473.17" cy="73.19" r="1.35" stroke="#ff0000" class="m"/>
<circle cx="475.59" cy="72.9" r="1.35" stroke="#ff0000" class="m"/>
<circle cx="476.37" cy="71.88" r="1.35" stroke="#ff0000" class="m"/>
<circle cx="476.49" cy="71" r="1.35" stroke="#ff0000" class="m"/>
<circle cx="477.48" cy="69.52" r="1.35" stroke="#ff0000" class="m"/>
<circle cx="479.09" cy="68.74" r="1.35" stroke="#ff0000" class="m"/>
<circle cx="480.22" cy="68.93" r="1.35" stroke="#ff0000" class="m"/>
<circle cx="481.35" cy="68.2" r="1.35" stroke="#ff0000" class="m"/>
<circle cx="482.04" cy="66.56" r="1.35" stroke="#ff0000" class="m"/>
<circle cx="482.89" cy="65.61" r="1.35" stroke="#ff0000" class="m"/>
<circle cx="483.19" cy="64.12" r="1.35" stroke="#ff0000" class="m"/>
<circle cx="484.86" cy="63.14" r="1.35" stroke="#ff0000" class="m"/>
<circle cx="485.78" cy="62.23" r="1.35" stroke="#ff0000" class="m"/>
<circle cx="487.81" cy="62.24" r="1.35" stroke="#ff0000" class="m"/>
<circle cx="488.5" cy="61.27" r="1.35" stroke="#ff0000" class="m"/>
<circle cx="489.44" cy="60.41" r="1.35" stroke="#ff0000" class="m"/>
<circle cx="489.92" cy="59.37" r="1.35" stroke="#ff0000" class="m"/>
<circle cx="491.14" cy="57.66" r="1.35" stroke="#ff0000" class="m"/>
<circle cx="493.17" cy="57.77" r="1.35" stroke="#ff0000" class="m"/>
<circle cx="493.27" cy="56.34" r="1.35" stroke="#ff0000" class="m"/>
<circle cx="494.42" cy="55.45" r="1.35" stroke="#ff0000" class="m"/>
<circle cx="495.88" cy="54.26" r="1.35" stroke="#ff0000" class="m"/>
<circle cx="495.97" cy="53.43" r="1.35" stroke="#ff0000" class="m"/>
<circle cx="498.67" cy="53.55" r="1.35" stroke="#ff0000" class="m"/>
<circle cx="498.99" cy="51.99" r="1.35" stroke="#ff0000" class="m"/>
<circle cx="500.46" cy="51.4" r="1.35" stroke="#ff0000" class="m"/>
<circle cx="501.16" cy="50.42" r="1.35" stroke="#ff0000" class="m"/>
<circle cx="502.5" cy="49.3" r="1.35" stroke="#ff0000" class="m"/>
<circle cx="502.76" cy="47.88" r="1.35" stroke="#ff0000" class="m"/>
<circle cx="504.96" cy="47.98" r="1.35" stroke="#ff0000" class="m"/>
<circle cx="505.63" cy="46.53" r="1.35" stroke="#ff0000" class="m"/>
<circle cx="506.05" cy="44.86" r="1.35" stroke="#ff0000" class="m"/>
<circle cx="507.92" cy="45.12" r="1.35" stroke="#ff0000" class="m"/>
<circle cx="508.92" cy="43.1" r="1.35" stroke="#ff0000" class="m"/>
<circle cx="510.35" cy="42.65" r="1.35" stroke="#ff0000" class="m"/>
<circle cx="511.87" cy="42.01" r="1.35" stroke="#ff0000" class="m"/>
<circle cx="512.61" cy="41.39" r="1.35" stroke="#ff0000" class="m"/>
<circle cx="513.4" cy="39.56" r="1.35" stroke="#ff0000" class="m"/>
<circle cx="514.22" cy="38.52" r="1.35" stroke="#ff0000" class="m"/>
<circle cx="514.58" cy="37.51" r="1.35" stroke="#ff0000" class="m"/>
<circle cx="515.76" cy="36.17" r="1.35" stroke="#ff0000" class="m"/>
<circle cx="517.16" cy="36.63" r="1.35" stroke="#ff0000" class="m"/>
<circle cx="525.6" cy="29.6" r="1.35" stroke="#ff0000" class="m"/>
<circle cx="523.2" cy="31" r="1.35" stroke="#ff0000" class="m"/>
<circle cx="521.3" cy="32.2" r="1.35" stroke="#ff0000" class="m"/>
<circle cx="519.5" cy="33.4" r="1.35" stroke="#ff0000" class="m"/>
<circle cx="518.3" cy="34.7" r="1.35" stroke="#ff0000" class="m"/>
<circle cx="520.1" cy="35.9" r="1.35" stroke="#ff0000" class="m"/>
<circle cx="521.9" cy="35.3" r="1.35" stroke="#ff0000" class="m"/>
<circle cx="523.8" cy="32.8" r="1.35" stroke="#ff0000" class="m"/>
<circle cx="537.7" cy="19.5" r="1.35" stroke="#ff0000" class="m"/>
<circle cx="531.7" cy="29.2" r="1.35" stroke="#ff0000" class="m"/>
<circle cx="526.8" cy="35.3" r="1.35" stroke="#ff0000" class="m"/>
<circle cx="530.5" cy="38.3" r="1.35" stroke="#ff0000" class="m"/>
<circle cx="535.3" cy="34.7" r="1.35" stroke="#ff0000" class="m"/>
<circle cx="537.1" cy="35.9" r="1.35" stroke="#ff0000" class="m"/>
<circle cx="514.7" cy="38.3" r="1.35" stroke="#ff0000" class="m"/>
<circle cx="512.2" cy="38.9" r="1.35" stroke="#ff0000" class="m"/>
<circle cx="511.6" cy="40.7" r="1.35" stroke="#ff0000" class="m"/>
<circle cx="522.6" cy="43.2" r="1.35" stroke="#ff0000" class="m"/>
<circle cx="524.4" cy="44.4" r="1.35" stroke="#ff0000" class="m"/>
<circle cx="517.7" cy="48" r="1.35" stroke="#ff0000" class="m"/>
<circle cx="518.3" cy="49.2" r="1.35" stroke="#ff0000" class="m"/>
<circle cx="517.1" cy="49.8" r="1.35" stroke="#ff0000" class="m"/>
<circle cx="511.6" cy="51.7" r="1.35" stroke="#ff0000" class="m"/>
<circle cx="507.4" cy="51.1" r="1.35" stroke="#ff0000" class="m"/>
<circle cx="508" cy="54.1" r="1.35" stroke="#ff0000" class="m"/>
<circle cx="503.7" cy="57.1" r="1.35" stroke="#ff0000" class="m"/>
<circle cx="504.3" cy="59" r="1.35" stroke="#ff0000" class="m"/>
<circle cx="501.3" cy="59.6" r="1.35" stroke="#ff0000" class="m"/>
<circle cx="478.1" cy="76.9" r="1.35" stroke="#ff0000" class="m"/>
<circle cx="479.4" cy="74.9" r="1.35" stroke="#ff0000" class="m"/>
<circle cx="477.4" cy="78.8" r="1.35" stroke="#ff0000" class="m"/>
<circle cx="478.7" cy="79.5" r="1.35" stroke="#ff0000" class="m"/>
<circle cx="483.9" cy="71.7" r="1.35" stroke="#ff0000" class="m"/>
<circle cx="485.2" cy="73" r="1.35" stroke="#ff0000" class="m"/>
<circle cx="485.8" cy="71.1" r="1.35" stroke="#ff0000" class="m"/>
<circle cx="484.5" cy="74.3" r="1.35" stroke="#ff0000" class="m"/>
<circle cx="487.8" cy="66.5" r="1.35" stroke="#ff0000" class="m"/>
<circle cx="489.1" cy="65.9" r="1.35" stroke="#ff0000" class="m"/>
<circle cx="490.4" cy="67.2" r="1.35" stroke="#ff0000" class="m"/>
<circle cx="474.2" cy="81.4" r="1.35" stroke="#ff0000" class="m"/>
<circle cx="473.6" cy="79.5" r="1.35" stroke="#ff0000" class="m"/>
<circle cx="499.4" cy="60.7" r="1.35" stroke="#ff0000" class="m"/>
<circle cx="500.7" cy="62.7" r="1.35" stroke="#ff0000" class="m"/>
<circle cx="500" cy="62" r="1.35" stroke="#ff0000" class="m"/>
<circle cx="503.3" cy="56.9" r="1.35" stroke="#ff0000" class="m"/>
<circle cx="504.6" cy="58.1" r="1.35" stroke="#ff0000" class="m"/>
<circle cx="507.8" cy="53.6" r="1.35" stroke="#ff0000" class="m"/>
<circle cx="500.1" cy="62.2" r="1.35" stroke="#ff0000" class="m"/>
<circle cx="499.5" cy="60.9" r="1.35" stroke="#ff0000" class="m"/>
<circle cx="504.3" cy="58.5" r="1.35" stroke="#ff0000" class="m"/>
<circle cx="503.7" cy="57.3" r="1.35" stroke="#ff0000" class="m"/>
<circle cx="508" cy="54.9" r="1.35" stroke="#ff0000" class="m"/>
<circle cx="511.6" cy="51.8" r="1.35" stroke="#ff0000" class="m"/>
<circle cx="517.7" cy="50" r="1.35" stroke="#ff0000" class="m"/>
<circle cx="506.2" cy="51.2" r="1.35" stroke="#ff0000" class="m"/>
<circle cx="465.9" cy="79.9" r="1.35" stroke="#ff0000" class="m"/>
</g>
<rect x="452.5" y="104" width="77.7" height="33.9" fill="#fff" stroke="#f2f2f2"/>
<circle cx="462.8" cy="113.8" r="1.2" stroke="#0062ba" stroke-width="1.1"/>
<circle cx="462.8" cy="129.4" r="1.2" stroke="#ff0000" stroke-width="1.1"/>
<text x="472.9" y="116.3" class="lg">Ch 201.6 kW</text>
<text x="472.9" y="131.8" class="lg">Ch 357.8 kW</text>
<line x1="29.5" x2="166.5" y1="317.5" y2="317.5" stroke="#f0f0f0"/>
<line x1="29.5" x2="166.5" y1="298.5" y2="298.5" stroke="#f0f0f0"/>
<line x1="29.5" x2="166.5" y1="279.5" y2="279.5" stroke="#f0f0f0"/>
<line x1="29.5" x2="166.5" y1="259.5" y2="259.5" stroke="#f0f0f0"/>
<line x1="29.5" x2="166.5" y1="240.5" y2="240.5" stroke="#f0f0f0"/>
<line x1="29.5" x2="166.5" y1="221.5" y2="221.5" stroke="#f0f0f0"/>
<line x1="56.5" x2="56.5" y1="202.5" y2="336.5" stroke="#f0f0f0"/>
<line x1="84.5" x2="84.5" y1="202.5" y2="336.5" stroke="#f0f0f0"/>
<line x1="111.5" x2="111.5" y1="202.5" y2="336.5" stroke="#f0f0f0"/>
<line x1="139.5" x2="139.5" y1="202.5" y2="336.5" stroke="#f0f0f0"/>
<rect x="29.5" y="202.5" width="137" height="134" fill="none" stroke="#d9d9d9"/>
<text x="25.9" y="338.6" text-anchor="end" class="yt">0</text>
<text x="25.9" y="319.46" text-anchor="end" class="yt">1</text>
<text x="25.9" y="300.31" text-anchor="end" class="yt">2</text>
<text x="25.9" y="281.17" text-anchor="end" class="yt">3</text>
<text x="25.9" y="262.03" text-anchor="end" class="yt">4</text>
<text x="25.9" y="242.89" text-anchor="end" class="yt">5</text>
<text x="25.9" y="223.74" text-anchor="end" class="yt">6</text>
<text x="25.9" y="204.6" text-anchor="end" class="yt">7</text>
<text x="29.5" y="349.2" text-anchor="middle" class="xt">0.0</text>
<text x="56.9" y="349.2" text-anchor="middle" class="xt">0.2</text>
<text x="84.3" y="349.2" text-anchor="middle" class="xt">0.4</text>
<text x="111.7" y="349.2" text-anchor="middle" class="xt">0.6</text>
<text x="139.1" y="349.2" text-anchor="middle" class="xt">0.8</text>
<text x="166.5" y="349.2" text-anchor="middle" class="xt">1.0</text>
<text transform="translate(10.5,284.7) rotate(-90)" text-anchor="middle" class="ax" textLength="23.3" lengthAdjust="spacingAndGlyphs">COP</text>
<text x="99.1" y="364.5" text-anchor="middle" class="ax">PLR</text>
<text x="85.7" y="379.2" text-anchor="middle" class="ti" textLength="74" lengthAdjust="spacingAndGlyphs">Chiller plant #4</text>
<clipPath id="c3"><rect x="29.5" y="199.5" width="140" height="137"/></clipPath><g clip-path="url(#c3)">
<circle cx="30.2" cy="336.3" r="1.35" stroke="#0062ba" class="m"/>
<circle cx="38.9" cy="326.4" r="1.35" stroke="#0062ba" class="m"/>
<circle cx="41.7" cy="323.3" r="1.35" stroke="#0062ba" class="m"/>
<circle cx="44.9" cy="319.7" r="1.35" stroke="#0062ba" class="m"/>
<circle cx="46.2" cy="317.9" r="1.35" stroke="#0062ba" class="m"/>
<circle cx="48" cy="316.1" r="1.35" stroke="#0062ba" class="m"/>
<circle cx="54.3" cy="309.8" r="1.35" stroke="#0062ba" class="m"/>
<circle cx="57.6" cy="308.9" r="1.35" stroke="#0062ba" class="m"/>
<circle cx="62.5" cy="301.3" r="1.35" stroke="#0062ba" class="m"/>
<circle cx="67" cy="297.1" r="1.35" stroke="#0062ba" class="m"/>
<circle cx="68.4" cy="295.3" r="1.35" stroke="#0062ba" class="m"/>
<circle cx="70.2" cy="293.5" r="1.35" stroke="#0062ba" class="m"/>
<circle cx="72" cy="291.7" r="1.35" stroke="#0062ba" class="m"/>
<circle cx="73.3" cy="289.9" r="1.35" stroke="#0062ba" class="m"/>
<circle cx="71.5" cy="298" r="1.35" stroke="#0062ba" class="m"/>
<circle cx="74.64" cy="286.58" r="1.35" stroke="#0062ba" class="m"/>
<circle cx="76.05" cy="286.54" r="1.35" stroke="#0062ba" class="m"/>
<circle cx="76.52" cy="284.66" r="1.35" stroke="#0062ba" class="m"/>
<circle cx="78.4" cy="284.22" r="1.35" stroke="#0062ba" class="m"/>
<circle cx="79.53" cy="282.48" r="1.35" stroke="#0062ba" class="m"/>
<circle cx="81.56" cy="282.44" r="1.35" stroke="#0062ba" class="m"/>
<circle cx="80.49" cy="280.15" r="1.35" stroke="#0062ba" class="m"/>
<circle cx="82.9" cy="280.6" r="1.35" stroke="#0062ba" class="m"/>
<circle cx="84.39" cy="279.43" r="1.35" stroke="#0062ba" class="m"/>
<circle cx="85.23" cy="277.67" r="1.35" stroke="#0062ba" class="m"/>
<circle cx="84.96" cy="275.81" r="1.35" stroke="#0062ba" class="m"/>
<circle cx="87.03" cy="276.47" r="1.35" stroke="#0062ba" class="m"/>
<circle cx="88.44" cy="274.96" r="1.35" stroke="#0062ba" class="m"/>
<circle cx="89.29" cy="273.82" r="1.35" stroke="#0062ba" class="m"/>
<circle cx="90.82" cy="273.14" r="1.35" stroke="#0062ba" class="m"/>
<circle cx="90.83" cy="271.65" r="1.35" stroke="#0062ba" class="m"/>
<circle cx="92.66" cy="271.05" r="1.35" stroke="#0062ba" class="m"/>
<circle cx="93.06" cy="268.52" r="1.35" stroke="#0062ba" class="m"/>
<circle cx="93.62" cy="267.94" r="1.35" stroke="#0062ba" class="m"/>
<circle cx="95.83" cy="267.66" r="1.35" stroke="#0062ba" class="m"/>
<circle cx="96.95" cy="266.47" r="1.35" stroke="#0062ba" class="m"/>
<circle cx="97.55" cy="265.04" r="1.35" stroke="#0062ba" class="m"/>
<circle cx="98.79" cy="264.25" r="1.35" stroke="#0062ba" class="m"/>
<circle cx="100.49" cy="263.34" r="1.35" stroke="#0062ba" class="m"/>
<circle cx="101.24" cy="261.33" r="1.35" stroke="#0062ba" class="m"/>
<circle cx="102.47" cy="261.6" r="1.35" stroke="#0062ba" class="m"/>
<circle cx="103.34" cy="259.24" r="1.35" stroke="#0062ba" class="m"/>
<circle cx="104.91" cy="259.45" r="1.35" stroke="#0062ba" class="m"/>
<circle cx="104.69" cy="257.3" r="1.35" stroke="#0062ba" class="m"/>
<circle cx="106.79" cy="256.91" r="1.35" stroke="#0062ba" class="m"/>
<circle cx="108.14" cy="256.26" r="1.35" stroke="#0062ba" class="m"/>
<circle cx="108.42" cy="254.61" r="1.35" stroke="#0062ba" class="m"/>
<circle cx="108.97" cy="253.41" r="1.35" stroke="#0062ba" class="m"/>
<circle cx="110.53" cy="252.8" r="1.35" stroke="#0062ba" class="m"/>
<circle cx="112.18" cy="252.01" r="1.35" stroke="#0062ba" class="m"/>
<circle cx="112.71" cy="250.71" r="1.35" stroke="#0062ba" class="m"/>
<circle cx="113.89" cy="249.69" r="1.35" stroke="#0062ba" class="m"/>
<circle cx="115.6" cy="249.1" r="1.35" stroke="#0062ba" class="m"/>
<circle cx="116.22" cy="247.63" r="1.35" stroke="#0062ba" class="m"/>
<circle cx="117.84" cy="247.42" r="1.35" stroke="#0062ba" class="m"/>
<circle cx="118.96" cy="245.78" r="1.35" stroke="#0062ba" class="m"/>
<circle cx="119.95" cy="245.48" r="1.35" stroke="#0062ba" class="m"/>
<circle cx="120.36" cy="243.9" r="1.35" stroke="#0062ba" class="m"/>
<circle cx="121.82" cy="243.38" r="1.35" stroke="#0062ba" class="m"/>
<circle cx="122.85" cy="241.94" r="1.35" stroke="#0062ba" class="m"/>
<circle cx="124.78" cy="241.09" r="1.35" stroke="#0062ba" class="m"/>
<circle cx="125.09" cy="240.13" r="1.35" stroke="#0062ba" class="m"/>
<circle cx="126.82" cy="240.02" r="1.35" stroke="#0062ba" class="m"/>
<circle cx="128.33" cy="238.91" r="1.35" stroke="#0062ba" class="m"/>
<circle cx="129.25" cy="238.08" r="1.35" stroke="#0062ba" class="m"/>
<circle cx="130.37" cy="237.34" r="1.35" stroke="#0062ba" class="m"/>
<circle cx="130.38" cy="234.69" r="1.35" stroke="#0062ba" class="m"/>
<circle cx="133.11" cy="235.06" r="1.35" stroke="#0062ba" class="m"/>
<circle cx="133.33" cy="234.02" r="1.35" stroke="#0062ba" class="m"/>
<circle cx="133.95" cy="232.09" r="1.35" stroke="#0062ba" class="m"/>
<circle cx="136.39" cy="232.9" r="1.35" stroke="#0062ba" class="m"/>
<circle cx="137.13" cy="231.6" r="1.35" stroke="#0062ba" class="m"/>
<circle cx="138.55" cy="230.55" r="1.35" stroke="#0062ba" class="m"/>
<circle cx="139.81" cy="230.02" r="1.35" stroke="#0062ba" class="m"/>
<circle cx="140.11" cy="228.41" r="1.35" stroke="#0062ba" class="m"/>
<circle cx="140.74" cy="226.7" r="1.35" stroke="#0062ba" class="m"/>
<circle cx="142.96" cy="227.17" r="1.35" stroke="#0062ba" class="m"/>
<circle cx="143.24" cy="225.04" r="1.35" stroke="#0062ba" class="m"/>
<circle cx="144.65" cy="224.98" r="1.35" stroke="#0062ba" class="m"/>
<circle cx="145.27" cy="223.56" r="1.35" stroke="#0062ba" class="m"/>
<circle cx="146.74" cy="222.21" r="1.35" stroke="#0062ba" class="m"/>
<circle cx="147.55" cy="221.8" r="1.35" stroke="#0062ba" class="m"/>
<circle cx="148.79" cy="220.48" r="1.35" stroke="#0062ba" class="m"/>
<circle cx="150.9" cy="220.71" r="1.35" stroke="#0062ba" class="m"/>
<circle cx="152.43" cy="220.29" r="1.35" stroke="#0062ba" class="m"/>
<circle cx="108.2" cy="252.87" r="1.35" stroke="#0062ba" class="m"/>
<circle cx="109.31" cy="252.12" r="1.35" stroke="#0062ba" class="m"/>
<circle cx="110.03" cy="250.5" r="1.35" stroke="#0062ba" class="m"/>
<circle cx="112.29" cy="249.51" r="1.35" stroke="#0062ba" class="m"/>
<circle cx="112.97" cy="248.5" r="1.35" stroke="#0062ba" class="m"/>
<circle cx="114.38" cy="246.68" r="1.35" stroke="#0062ba" class="m"/>
<circle cx="115.65" cy="245.36" r="1.35" stroke="#0062ba" class="m"/>
<circle cx="116.95" cy="244.94" r="1.35" stroke="#0062ba" class="m"/>
<circle cx="118.79" cy="244.15" r="1.35" stroke="#0062ba" class="m"/>
<circle cx="119.66" cy="242.23" r="1.35" stroke="#0062ba" class="m"/>
<circle cx="122.02" cy="241.69" r="1.35" stroke="#0062ba" class="m"/>
<circle cx="122.4" cy="239.51" r="1.35" stroke="#0062ba" class="m"/>
<circle cx="123.3" cy="238.7" r="1.35" stroke="#0062ba" class="m"/>
<circle cx="125.48" cy="237.84" r="1.35" stroke="#0062ba" class="m"/>
<circle cx="126.9" cy="237.89" r="1.35" stroke="#0062ba" class="m"/>
<circle cx="127.08" cy="235.42" r="1.35" stroke="#0062ba" class="m"/>
<circle cx="129.59" cy="234.38" r="1.35" stroke="#0062ba" class="m"/>
<circle cx="131.06" cy="233.51" r="1.35" stroke="#0062ba" class="m"/>
<circle cx="131.67" cy="232.7" r="1.35" stroke="#0062ba" class="m"/>
<circle cx="133.07" cy="230.49" r="1.35" stroke="#0062ba" class="m"/>
<circle cx="134.92" cy="229.94" r="1.35" stroke="#0062ba" class="m"/>
<circle cx="136.08" cy="228.99" r="1.35" stroke="#0062ba" class="m"/>
<circle cx="137.94" cy="228" r="1.35" stroke="#0062ba" class="m"/>
<circle cx="138.58" cy="226.47" r="1.35" stroke="#0062ba" class="m"/>
<circle cx="140.37" cy="225.4" r="1.35" stroke="#0062ba" class="m"/>
<circle cx="141.54" cy="224.12" r="1.35" stroke="#0062ba" class="m"/>
<circle cx="143.37" cy="224.37" r="1.35" stroke="#0062ba" class="m"/>
<circle cx="145.1" cy="223.1" r="1.35" stroke="#0062ba" class="m"/>
<circle cx="146.82" cy="221.33" r="1.35" stroke="#0062ba" class="m"/>
<circle cx="148.31" cy="220.4" r="1.35" stroke="#0062ba" class="m"/>
<circle cx="90.2" cy="276.2" r="1.35" stroke="#0062ba" class="m"/>
<circle cx="94.1" cy="278.1" r="1.35" stroke="#0062ba" class="m"/>
<circle cx="101.2" cy="271.7" r="1.35" stroke="#0062ba" class="m"/>
<circle cx="103.8" cy="267.1" r="1.35" stroke="#0062ba" class="m"/>
<circle cx="105.7" cy="264.5" r="1.35" stroke="#0062ba" class="m"/>
<circle cx="102.5" cy="263.9" r="1.35" stroke="#0062ba" class="m"/>
<circle cx="110.9" cy="261.3" r="1.35" stroke="#0062ba" class="m"/>
<circle cx="112.2" cy="263.3" r="1.35" stroke="#0062ba" class="m"/>
<circle cx="111.9" cy="263.3" r="1.35" stroke="#0062ba" class="m"/>
<circle cx="118.1" cy="258.6" r="1.35" stroke="#0062ba" class="m"/>
<circle cx="162.6" cy="210.8" r="1.35" stroke="#0062ba" class="m"/>
<circle cx="151" cy="218.6" r="1.35" stroke="#0062ba" class="m"/>
<circle cx="152.9" cy="217.9" r="1.35" stroke="#0062ba" class="m"/>
<circle cx="153.5" cy="219.9" r="1.35" stroke="#0062ba" class="m"/>
<circle cx="151.6" cy="220.5" r="1.35" stroke="#0062ba" class="m"/>
<circle cx="152.2" cy="222.4" r="1.35" stroke="#0062ba" class="m"/>
<circle cx="162.6" cy="223.1" r="1.35" stroke="#0062ba" class="m"/>
<circle cx="163.2" cy="224.4" r="1.35" stroke="#0062ba" class="m"/>
<circle cx="161.9" cy="226.3" r="1.35" stroke="#0062ba" class="m"/>
<circle cx="132.2" cy="243.1" r="1.35" stroke="#0062ba" class="m"/>
<circle cx="134.8" cy="243.8" r="1.35" stroke="#0062ba" class="m"/>
<circle cx="145.1" cy="237.3" r="1.35" stroke="#0062ba" class="m"/>
<circle cx="146.4" cy="238.6" r="1.35" stroke="#0062ba" class="m"/>
<circle cx="152.9" cy="232.1" r="1.35" stroke="#0062ba" class="m"/>
<circle cx="151.6" cy="230.8" r="1.35" stroke="#0062ba" class="m"/>
<circle cx="123.1" cy="249.04" r="1.35" stroke="#ff0000" class="m"/>
<circle cx="125.26" cy="249.02" r="1.35" stroke="#ff0000" class="m"/>
<circle cx="125.25" cy="247.23" r="1.35" stroke="#ff0000" class="m"/>
<circle cx="127.34" cy="247.49" r="1.35" stroke="#ff0000" class="m"/>
<circle cx="128.3" cy="246.63" r="1.35" stroke="#ff0000" class="m"/>
<circle cx="128.73" cy="244.37" r="1.35" stroke="#ff0000" class="m"/>
<circle cx="130.17" cy="244.14" r="1.35" stroke="#ff0000" class="m"/>
<circle cx="131.98" cy="244.33" r="1.35" stroke="#ff0000" class="m"/>
<circle cx="131.39" cy="241.72" r="1.35" stroke="#ff0000" class="m"/>
<circle cx="133.61" cy="241.36" r="1.35" stroke="#ff0000" class="m"/>
<circle cx="134.15" cy="240.8" r="1.35" stroke="#ff0000" class="m"/>
<circle cx="136.22" cy="241.22" r="1.35" stroke="#ff0000" class="m"/>
<circle cx="136.28" cy="239.06" r="1.35" stroke="#ff0000" class="m"/>
<circle cx="138.11" cy="238.81" r="1.35" stroke="#ff0000" class="m"/>
<circle cx="139.88" cy="238.47" r="1.35" stroke="#ff0000" class="m"/>
<circle cx="139.77" cy="236.72" r="1.35" stroke="#ff0000" class="m"/>
<circle cx="142.35" cy="237.25" r="1.35" stroke="#ff0000" class="m"/>
<circle cx="142.56" cy="236.32" r="1.35" stroke="#ff0000" class="m"/>
<circle cx="144.15" cy="234.84" r="1.35" stroke="#ff0000" class="m"/>
<circle cx="145.05" cy="234.59" r="1.35" stroke="#ff0000" class="m"/>
<circle cx="145.66" cy="232.3" r="1.35" stroke="#ff0000" class="m"/>
<circle cx="146.77" cy="231.52" r="1.35" stroke="#ff0000" class="m"/>
<circle cx="147.67" cy="231.18" r="1.35" stroke="#ff0000" class="m"/>
<circle cx="149.1" cy="230.26" r="1.35" stroke="#ff0000" class="m"/>
<circle cx="151.11" cy="230.04" r="1.35" stroke="#ff0000" class="m"/>
<circle cx="152.68" cy="229.2" r="1.35" stroke="#ff0000" class="m"/>
<circle cx="153.56" cy="227.91" r="1.35" stroke="#ff0000" class="m"/>
<circle cx="153.31" cy="226.22" r="1.35" stroke="#ff0000" class="m"/>
<circle cx="155.23" cy="225.8" r="1.35" stroke="#ff0000" class="m"/>
<circle cx="155.72" cy="224" r="1.35" stroke="#ff0000" class="m"/>
<circle cx="157.78" cy="224.88" r="1.35" stroke="#ff0000" class="m"/>
<circle cx="158.84" cy="223.33" r="1.35" stroke="#ff0000" class="m"/>
<circle cx="159.24" cy="222.17" r="1.35" stroke="#ff0000" class="m"/>
<circle cx="161.33" cy="221.42" r="1.35" stroke="#ff0000" class="m"/>
<circle cx="138.12" cy="239.71" r="1.35" stroke="#ff0000" class="m"/>
<circle cx="139.78" cy="240.1" r="1.35" stroke="#ff0000" class="m"/>
<circle cx="141.26" cy="239.15" r="1.35" stroke="#ff0000" class="m"/>
<circle cx="142.15" cy="237" r="1.35" stroke="#ff0000" class="m"/>
<circle cx="144.15" cy="237.79" r="1.35" stroke="#ff0000" class="m"/>
<circle cx="144.83" cy="235.51" r="1.35" stroke="#ff0000" class="m"/>
<circle cx="147.08" cy="235.33" r="1.35" stroke="#ff0000" class="m"/>
<circle cx="148.79" cy="233.7" r="1.35" stroke="#ff0000" class="m"/>
<circle cx="150.34" cy="233.47" r="1.35" stroke="#ff0000" class="m"/>
<circle cx="151.04" cy="231.93" r="1.35" stroke="#ff0000" class="m"/>
<circle cx="153" cy="231.15" r="1.35" stroke="#ff0000" class="m"/>
<circle cx="153.29" cy="229.65" r="1.35" stroke="#ff0000" class="m"/>
<circle cx="155.47" cy="229.58" r="1.35" stroke="#ff0000" class="m"/>
<circle cx="157.59" cy="228.65" r="1.35" stroke="#ff0000" class="m"/>
<circle cx="158.18" cy="226.44" r="1.35" stroke="#ff0000" class="m"/>
<circle cx="160.41" cy="226.63" r="1.35" stroke="#ff0000" class="m"/>
<circle cx="88.3" cy="285.9" r="1.35" stroke="#ff0000" class="m"/>
<circle cx="88.9" cy="281.3" r="1.35" stroke="#ff0000" class="m"/>
<circle cx="90.2" cy="281.1" r="1.35" stroke="#ff0000" class="m"/>
<circle cx="94.7" cy="274.9" r="1.35" stroke="#ff0000" class="m"/>
<circle cx="95.4" cy="272.3" r="1.35" stroke="#ff0000" class="m"/>
<circle cx="96.7" cy="271" r="1.35" stroke="#ff0000" class="m"/>
<circle cx="98" cy="269.7" r="1.35" stroke="#ff0000" class="m"/>
<circle cx="98.6" cy="273.6" r="1.35" stroke="#ff0000" class="m"/>
<circle cx="97.3" cy="274.2" r="1.35" stroke="#ff0000" class="m"/>
<circle cx="99.9" cy="271" r="1.35" stroke="#ff0000" class="m"/>
<circle cx="101.2" cy="269.7" r="1.35" stroke="#ff0000" class="m"/>
<circle cx="101.8" cy="271" r="1.35" stroke="#ff0000" class="m"/>
<circle cx="94.1" cy="272.9" r="1.35" stroke="#ff0000" class="m"/>
<circle cx="109.6" cy="272.3" r="1.35" stroke="#ff0000" class="m"/>
<circle cx="111.5" cy="261.3" r="1.35" stroke="#ff0000" class="m"/>
<circle cx="115.4" cy="258.7" r="1.35" stroke="#ff0000" class="m"/>
<circle cx="118" cy="256.8" r="1.35" stroke="#ff0000" class="m"/>
<circle cx="118.6" cy="256.1" r="1.35" stroke="#ff0000" class="m"/>
<circle cx="121.2" cy="252.3" r="1.35" stroke="#ff0000" class="m"/>
<circle cx="123.8" cy="252.9" r="1.35" stroke="#ff0000" class="m"/>
<circle cx="124.4" cy="249.7" r="1.35" stroke="#ff0000" class="m"/>
<circle cx="125.7" cy="255.5" r="1.35" stroke="#ff0000" class="m"/>
<circle cx="125.7" cy="259.4" r="1.35" stroke="#ff0000" class="m"/>
<circle cx="111.1" cy="261.7" r="1.35" stroke="#ff0000" class="m"/>
<circle cx="115" cy="258.6" r="1.35" stroke="#ff0000" class="m"/>
<circle cx="121.2" cy="252.4" r="1.35" stroke="#ff0000" class="m"/>
<circle cx="125.1" cy="254.7" r="1.35" stroke="#ff0000" class="m"/>
<circle cx="127.4" cy="254" r="1.35" stroke="#ff0000" class="m"/>
<circle cx="129.7" cy="254.7" r="1.35" stroke="#ff0000" class="m"/>
<circle cx="132" cy="255.5" r="1.35" stroke="#ff0000" class="m"/>
<circle cx="135.1" cy="254" r="1.35" stroke="#ff0000" class="m"/>
<circle cx="138.2" cy="251.6" r="1.35" stroke="#ff0000" class="m"/>
<circle cx="139.8" cy="249.3" r="1.35" stroke="#ff0000" class="m"/>
<circle cx="141.3" cy="247.8" r="1.35" stroke="#ff0000" class="m"/>
<circle cx="126.3" cy="259.8" r="1.35" stroke="#ff0000" class="m"/>
<circle cx="146.8" cy="243.9" r="1.35" stroke="#ff0000" class="m"/>
<circle cx="149.1" cy="243.1" r="1.35" stroke="#ff0000" class="m"/>
<circle cx="151.4" cy="242.3" r="1.35" stroke="#ff0000" class="m"/>
<circle cx="153.7" cy="241.6" r="1.35" stroke="#ff0000" class="m"/>
<circle cx="156.1" cy="240.8" r="1.35" stroke="#ff0000" class="m"/>
<circle cx="159.3" cy="221.8" r="1.35" stroke="#ff0000" class="m"/>
<circle cx="160" cy="223.1" r="1.35" stroke="#ff0000" class="m"/>
<circle cx="161.9" cy="235.4" r="1.35" stroke="#ff0000" class="m"/>
<circle cx="163.9" cy="236" r="1.35" stroke="#ff0000" class="m"/>
<circle cx="162.6" cy="236.7" r="1.35" stroke="#ff0000" class="m"/>
<circle cx="147.7" cy="243.1" r="1.35" stroke="#ff0000" class="m"/>
<circle cx="149.7" cy="242.5" r="1.35" stroke="#ff0000" class="m"/>
<circle cx="151.6" cy="241.8" r="1.35" stroke="#ff0000" class="m"/>
<circle cx="153.5" cy="240.5" r="1.35" stroke="#ff0000" class="m"/>
<circle cx="155.5" cy="239.2" r="1.35" stroke="#ff0000" class="m"/>
<circle cx="156.8" cy="239.9" r="1.35" stroke="#ff0000" class="m"/>
<circle cx="150.9" cy="243.8" r="1.35" stroke="#ff0000" class="m"/>
<circle cx="150.3" cy="236.7" r="1.35" stroke="#ff0000" class="m"/>
<circle cx="141.9" cy="247.6" r="1.35" stroke="#ff0000" class="m"/>
<circle cx="140.6" cy="249.6" r="1.35" stroke="#ff0000" class="m"/>
<circle cx="138.7" cy="251.5" r="1.35" stroke="#ff0000" class="m"/>
<circle cx="136.1" cy="252.8" r="1.35" stroke="#ff0000" class="m"/>
<circle cx="133.5" cy="253.4" r="1.35" stroke="#ff0000" class="m"/>
<circle cx="121.9" cy="252.2" r="1.35" stroke="#ff0000" class="m"/>
<circle cx="123.8" cy="253.4" r="1.35" stroke="#ff0000" class="m"/>
</g>
<rect x="81.2" y="295.1" width="76.5" height="33.3" fill="#fff" stroke="#f2f2f2"/>
<circle cx="91.4" cy="304.1" r="1.2" stroke="#0062ba" stroke-width="1.1"/>
<circle cx="91.4" cy="319.4" r="1.2" stroke="#ff0000" stroke-width="1.1"/>
<text x="101.2" y="306.6" class="lg">Ch 228.9 kW</text>
<text x="101.2" y="321.8" class="lg">Ch 310.6 kW</text>
<line x1="215.5" x2="353.5" y1="318.5" y2="318.5" stroke="#f0f0f0"/>
<line x1="215.5" x2="353.5" y1="298.5" y2="298.5" stroke="#f0f0f0"/>
<line x1="215.5" x2="353.5" y1="279.5" y2="279.5" stroke="#f0f0f0"/>
<line x1="215.5" x2="353.5" y1="260.5" y2="260.5" stroke="#f0f0f0"/>
<line x1="215.5" x2="353.5" y1="241.5" y2="241.5" stroke="#f0f0f0"/>
<line x1="215.5" x2="353.5" y1="221.5" y2="221.5" stroke="#f0f0f0"/>
<line x1="243.5" x2="243.5" y1="202.5" y2="337.5" stroke="#f0f0f0"/>
<line x1="270.5" x2="270.5" y1="202.5" y2="337.5" stroke="#f0f0f0"/>
<line x1="298.5" x2="298.5" y1="202.5" y2="337.5" stroke="#f0f0f0"/>
<line x1="325.5" x2="325.5" y1="202.5" y2="337.5" stroke="#f0f0f0"/>
<rect x="215.5" y="202.5" width="138" height="135" fill="none" stroke="#d9d9d9"/>
<text x="211.9" y="339.6" text-anchor="end" class="yt">0</text>
<text x="211.9" y="320.31" text-anchor="end" class="yt">1</text>
<text x="211.9" y="301.03" text-anchor="end" class="yt">2</text>
<text x="211.9" y="281.74" text-anchor="end" class="yt">3</text>
<text x="211.9" y="262.46" text-anchor="end" class="yt">4</text>
<text x="211.9" y="243.17" text-anchor="end" class="yt">5</text>
<text x="211.9" y="223.89" text-anchor="end" class="yt">6</text>
<text x="211.9" y="204.6" text-anchor="end" class="yt">7</text>
<text x="215.5" y="350.2" text-anchor="middle" class="xt">0.0</text>
<text x="243.1" y="350.2" text-anchor="middle" class="xt">0.2</text>
<text x="270.7" y="350.2" text-anchor="middle" class="xt">0.4</text>
<text x="298.3" y="350.2" text-anchor="middle" class="xt">0.6</text>
<text x="325.9" y="350.2" text-anchor="middle" class="xt">0.8</text>
<text x="353.5" y="350.2" text-anchor="middle" class="xt">1.0</text>
<text transform="translate(196.5,285.2) rotate(-90)" text-anchor="middle" class="ax" textLength="23.3" lengthAdjust="spacingAndGlyphs">COP</text>
<text x="285.2" y="364.6" text-anchor="middle" class="ax">PLR</text>
<text x="271.2" y="379.2" text-anchor="middle" class="ti" textLength="74" lengthAdjust="spacingAndGlyphs">Chiller plant #5</text>
<clipPath id="c4"><rect x="215.5" y="199.5" width="141" height="138"/></clipPath><g clip-path="url(#c4)">
<circle cx="239.4" cy="315.7" r="1.35" stroke="#0062ba" class="m"/>
<circle cx="244" cy="311.1" r="1.35" stroke="#0062ba" class="m"/>
<circle cx="246.4" cy="305.7" r="1.35" stroke="#0062ba" class="m"/>
<circle cx="264.2" cy="287.8" r="1.35" stroke="#0062ba" class="m"/>
<circle cx="266.5" cy="285.5" r="1.35" stroke="#0062ba" class="m"/>
<circle cx="268.8" cy="283.6" r="1.35" stroke="#0062ba" class="m"/>
<circle cx="270.4" cy="282.1" r="1.35" stroke="#0062ba" class="m"/>
<circle cx="272.7" cy="280.1" r="1.35" stroke="#0062ba" class="m"/>
<circle cx="271.2" cy="287.8" r="1.35" stroke="#0062ba" class="m"/>
<circle cx="270.4" cy="289.4" r="1.35" stroke="#0062ba" class="m"/>
<circle cx="273.5" cy="284" r="1.35" stroke="#0062ba" class="m"/>
<circle cx="276.5" cy="275.2" r="1.35" stroke="#0062ba" class="m"/>
<circle cx="282.9" cy="271.9" r="1.35" stroke="#0062ba" class="m"/>
<circle cx="286.8" cy="271.3" r="1.35" stroke="#0062ba" class="m"/>
<circle cx="292" cy="260.3" r="1.35" stroke="#0062ba" class="m"/>
<circle cx="293.9" cy="259.7" r="1.35" stroke="#0062ba" class="m"/>
<circle cx="295.8" cy="258.4" r="1.35" stroke="#0062ba" class="m"/>
<circle cx="298.4" cy="256.4" r="1.35" stroke="#0062ba" class="m"/>
<circle cx="301" cy="255.8" r="1.35" stroke="#0062ba" class="m"/>
<circle cx="303.6" cy="253.2" r="1.35" stroke="#0062ba" class="m"/>
<circle cx="306.2" cy="249.3" r="1.35" stroke="#0062ba" class="m"/>
<circle cx="308.8" cy="246.1" r="1.35" stroke="#0062ba" class="m"/>
<circle cx="311.3" cy="244.1" r="1.35" stroke="#0062ba" class="m"/>
<circle cx="314.6" cy="243.5" r="1.35" stroke="#0062ba" class="m"/>
<circle cx="294.5" cy="269.3" r="1.35" stroke="#0062ba" class="m"/>
<circle cx="295.2" cy="270.6" r="1.35" stroke="#0062ba" class="m"/>
<circle cx="297.8" cy="266.1" r="1.35" stroke="#0062ba" class="m"/>
<circle cx="299.1" cy="265.5" r="1.35" stroke="#0062ba" class="m"/>
<circle cx="305.5" cy="262.2" r="1.35" stroke="#0062ba" class="m"/>
<circle cx="307.5" cy="259" r="1.35" stroke="#0062ba" class="m"/>
<circle cx="309.4" cy="259" r="1.35" stroke="#0062ba" class="m"/>
<circle cx="283.6" cy="276.5" r="1.35" stroke="#0062ba" class="m"/>
<circle cx="288.7" cy="273.9" r="1.35" stroke="#0062ba" class="m"/>
<circle cx="286.8" cy="272.6" r="1.35" stroke="#0062ba" class="m"/>
<circle cx="350.6" cy="214.3" r="1.35" stroke="#0062ba" class="m"/>
<circle cx="348" cy="216.6" r="1.35" stroke="#0062ba" class="m"/>
<circle cx="343.5" cy="221.8" r="1.35" stroke="#0062ba" class="m"/>
<circle cx="340.9" cy="221.8" r="1.35" stroke="#0062ba" class="m"/>
<circle cx="342.8" cy="224.4" r="1.35" stroke="#0062ba" class="m"/>
<circle cx="335.7" cy="233.4" r="1.35" stroke="#0062ba" class="m"/>
<circle cx="344.8" cy="234.7" r="1.35" stroke="#0062ba" class="m"/>
<circle cx="346.1" cy="231.5" r="1.35" stroke="#0062ba" class="m"/>
<circle cx="331.2" cy="242.5" r="1.35" stroke="#0062ba" class="m"/>
<circle cx="333.8" cy="242.5" r="1.35" stroke="#0062ba" class="m"/>
<circle cx="326.7" cy="245" r="1.35" stroke="#0062ba" class="m"/>
<circle cx="325.4" cy="246.3" r="1.35" stroke="#0062ba" class="m"/>
<circle cx="322.8" cy="248.3" r="1.35" stroke="#0062ba" class="m"/>
<circle cx="320.2" cy="250.2" r="1.35" stroke="#0062ba" class="m"/>
<circle cx="318.3" cy="251.5" r="1.35" stroke="#0062ba" class="m"/>
<circle cx="316.3" cy="253.4" r="1.35" stroke="#0062ba" class="m"/>
<circle cx="250.71" cy="302.36" r="1.35" stroke="#0062ba" class="m"/>
<circle cx="250.68" cy="300.71" r="1.35" stroke="#0062ba" class="m"/>
<circle cx="252.91" cy="299.55" r="1.35" stroke="#0062ba" class="m"/>
<circle cx="253.01" cy="298.56" r="1.35" stroke="#0062ba" class="m"/>
<circle cx="254.72" cy="297.11" r="1.35" stroke="#0062ba" class="m"/>
<circle cx="255.9" cy="297.22" r="1.35" stroke="#0062ba" class="m"/>
<circle cx="256.7" cy="295.7" r="1.35" stroke="#0062ba" class="m"/>
<circle cx="257.85" cy="294.04" r="1.35" stroke="#0062ba" class="m"/>
<circle cx="258.76" cy="292.32" r="1.35" stroke="#0062ba" class="m"/>
<circle cx="259.53" cy="291.38" r="1.35" stroke="#0062ba" class="m"/>
<circle cx="276.03" cy="275.04" r="1.35" stroke="#0062ba" class="m"/>
<circle cx="278.2" cy="274.99" r="1.35" stroke="#0062ba" class="m"/>
<circle cx="279.38" cy="272.04" r="1.35" stroke="#0062ba" class="m"/>
<circle cx="282.09" cy="271.68" r="1.35" stroke="#0062ba" class="m"/>
<circle cx="283.14" cy="270.56" r="1.35" stroke="#0062ba" class="m"/>
<circle cx="284.01" cy="268.22" r="1.35" stroke="#0062ba" class="m"/>
<circle cx="285.9" cy="267.01" r="1.35" stroke="#0062ba" class="m"/>
<circle cx="288.54" cy="265.15" r="1.35" stroke="#0062ba" class="m"/>
<circle cx="290.98" cy="264.22" r="1.35" stroke="#0062ba" class="m"/>
<circle cx="291.29" cy="262.79" r="1.35" stroke="#0062ba" class="m"/>
<circle cx="293" cy="261.81" r="1.35" stroke="#0062ba" class="m"/>
<circle cx="295.22" cy="260.05" r="1.35" stroke="#0062ba" class="m"/>
<circle cx="296.39" cy="259.17" r="1.35" stroke="#0062ba" class="m"/>
<circle cx="298.37" cy="258.18" r="1.35" stroke="#0062ba" class="m"/>
<circle cx="299.39" cy="255.48" r="1.35" stroke="#0062ba" class="m"/>
<circle cx="302.49" cy="254.68" r="1.35" stroke="#0062ba" class="m"/>
<circle cx="303.34" cy="253.74" r="1.35" stroke="#0062ba" class="m"/>
<circle cx="304.16" cy="251.74" r="1.35" stroke="#0062ba" class="m"/>
<circle cx="306.22" cy="250.34" r="1.35" stroke="#0062ba" class="m"/>
<circle cx="306.13" cy="248.25" r="1.35" stroke="#0062ba" class="m"/>
<circle cx="308.1" cy="247.13" r="1.35" stroke="#0062ba" class="m"/>
<circle cx="310.81" cy="245.65" r="1.35" stroke="#0062ba" class="m"/>
<circle cx="311.78" cy="244.83" r="1.35" stroke="#0062ba" class="m"/>
<circle cx="312.55" cy="242.26" r="1.35" stroke="#0062ba" class="m"/>
<circle cx="315.63" cy="241.92" r="1.35" stroke="#0062ba" class="m"/>
<circle cx="317.06" cy="239.42" r="1.35" stroke="#0062ba" class="m"/>
<circle cx="318.26" cy="237.71" r="1.35" stroke="#0062ba" class="m"/>
<circle cx="320.23" cy="238.01" r="1.35" stroke="#0062ba" class="m"/>
<circle cx="321.54" cy="234.82" r="1.35" stroke="#0062ba" class="m"/>
<circle cx="323.75" cy="234.51" r="1.35" stroke="#0062ba" class="m"/>
<circle cx="324.48" cy="232.34" r="1.35" stroke="#0062ba" class="m"/>
<circle cx="327.13" cy="230.21" r="1.35" stroke="#0062ba" class="m"/>
<circle cx="328.75" cy="229.33" r="1.35" stroke="#0062ba" class="m"/>
<circle cx="330.44" cy="227.56" r="1.35" stroke="#0062ba" class="m"/>
<circle cx="262.28" cy="290.02" r="1.35" stroke="#0062ba" class="m"/>
<circle cx="265.51" cy="287.93" r="1.35" stroke="#0062ba" class="m"/>
<circle cx="265.18" cy="284.92" r="1.35" stroke="#0062ba" class="m"/>
<circle cx="268.84" cy="282.52" r="1.35" stroke="#0062ba" class="m"/>
<circle cx="270.99" cy="280.69" r="1.35" stroke="#0062ba" class="m"/>
<circle cx="273.45" cy="280.16" r="1.35" stroke="#0062ba" class="m"/>
<circle cx="275.45" cy="277.89" r="1.35" stroke="#0062ba" class="m"/>
<circle cx="277.85" cy="277.27" r="1.35" stroke="#0062ba" class="m"/>
<circle cx="279.64" cy="273.28" r="1.35" stroke="#0062ba" class="m"/>
<circle cx="282.49" cy="272.36" r="1.35" stroke="#0062ba" class="m"/>
<circle cx="284" cy="268.34" r="1.35" stroke="#0062ba" class="m"/>
<circle cx="287.42" cy="267.7" r="1.35" stroke="#0062ba" class="m"/>
<circle cx="287.99" cy="266.23" r="1.35" stroke="#0062ba" class="m"/>
<circle cx="290.58" cy="262.81" r="1.35" stroke="#0062ba" class="m"/>
<circle cx="293.58" cy="262.04" r="1.35" stroke="#0062ba" class="m"/>
<circle cx="294.64" cy="258.78" r="1.35" stroke="#0062ba" class="m"/>
<circle cx="298.13" cy="259.68" r="1.35" stroke="#0062ba" class="m"/>
<circle cx="298.89" cy="255.63" r="1.35" stroke="#0062ba" class="m"/>
<circle cx="301.3" cy="252.81" r="1.35" stroke="#0062ba" class="m"/>
<circle cx="305.31" cy="252.48" r="1.35" stroke="#0062ba" class="m"/>
<circle cx="306.66" cy="250.6" r="1.35" stroke="#0062ba" class="m"/>
<circle cx="309.26" cy="248.69" r="1.35" stroke="#0062ba" class="m"/>
<circle cx="309.69" cy="245.52" r="1.35" stroke="#0062ba" class="m"/>
<circle cx="313.71" cy="245.85" r="1.35" stroke="#0062ba" class="m"/>
<circle cx="315.71" cy="241.26" r="1.35" stroke="#0062ba" class="m"/>
<circle cx="317.52" cy="239.53" r="1.35" stroke="#0062ba" class="m"/>
<circle cx="319.9" cy="238.12" r="1.35" stroke="#0062ba" class="m"/>
<circle cx="323.15" cy="237.46" r="1.35" stroke="#0062ba" class="m"/>
<circle cx="325.81" cy="235.2" r="1.35" stroke="#0062ba" class="m"/>
<circle cx="326.99" cy="232.21" r="1.35" stroke="#0062ba" class="m"/>
<circle cx="329.1" cy="231.84" r="1.35" stroke="#0062ba" class="m"/>
<circle cx="330.44" cy="227.73" r="1.35" stroke="#0062ba" class="m"/>
<circle cx="332.11" cy="225.85" r="1.35" stroke="#0062ba" class="m"/>
<circle cx="336.69" cy="225.58" r="1.35" stroke="#0062ba" class="m"/>
<circle cx="337.23" cy="223.79" r="1.35" stroke="#0062ba" class="m"/>
<circle cx="341.16" cy="221.43" r="1.35" stroke="#0062ba" class="m"/>
<circle cx="225.9" cy="326.1" r="1.35" stroke="#ff0000" class="m"/>
<circle cx="236.7" cy="315" r="1.35" stroke="#ff0000" class="m"/>
<circle cx="241.7" cy="310.6" r="1.35" stroke="#ff0000" class="m"/>
<circle cx="247.9" cy="304.9" r="1.35" stroke="#ff0000" class="m"/>
<circle cx="261.1" cy="290.2" r="1.35" stroke="#ff0000" class="m"/>
<circle cx="262.2" cy="293.6" r="1.35" stroke="#ff0000" class="m"/>
<circle cx="265.3" cy="287.4" r="1.35" stroke="#ff0000" class="m"/>
<circle cx="269.6" cy="282.7" r="1.35" stroke="#ff0000" class="m"/>
<circle cx="274.3" cy="278.5" r="1.35" stroke="#ff0000" class="m"/>
<circle cx="275.8" cy="277" r="1.35" stroke="#ff0000" class="m"/>
<circle cx="277.4" cy="275.4" r="1.35" stroke="#ff0000" class="m"/>
<circle cx="278.9" cy="273.9" r="1.35" stroke="#ff0000" class="m"/>
<circle cx="278.1" cy="283.2" r="1.35" stroke="#ff0000" class="m"/>
<circle cx="275.2" cy="275.8" r="1.35" stroke="#ff0000" class="m"/>
<circle cx="277.8" cy="273.2" r="1.35" stroke="#ff0000" class="m"/>
<circle cx="280.3" cy="271.3" r="1.35" stroke="#ff0000" class="m"/>
<circle cx="282.3" cy="269.3" r="1.35" stroke="#ff0000" class="m"/>
<circle cx="284.2" cy="268.1" r="1.35" stroke="#ff0000" class="m"/>
<circle cx="286.1" cy="266.8" r="1.35" stroke="#ff0000" class="m"/>
<circle cx="288.1" cy="265.5" r="1.35" stroke="#ff0000" class="m"/>
<circle cx="290" cy="264.2" r="1.35" stroke="#ff0000" class="m"/>
<circle cx="294.5" cy="261.6" r="1.35" stroke="#ff0000" class="m"/>
<circle cx="297.8" cy="259.7" r="1.35" stroke="#ff0000" class="m"/>
<circle cx="300.4" cy="257.1" r="1.35" stroke="#ff0000" class="m"/>
<circle cx="302.9" cy="254.5" r="1.35" stroke="#ff0000" class="m"/>
<circle cx="304.9" cy="252.5" r="1.35" stroke="#ff0000" class="m"/>
<circle cx="306.8" cy="250.6" r="1.35" stroke="#ff0000" class="m"/>
<circle cx="308.8" cy="248.7" r="1.35" stroke="#ff0000" class="m"/>
<circle cx="311.3" cy="246.7" r="1.35" stroke="#ff0000" class="m"/>
<circle cx="313.9" cy="244.8" r="1.35" stroke="#ff0000" class="m"/>
<circle cx="315.9" cy="241.6" r="1.35" stroke="#ff0000" class="m"/>
<circle cx="317.2" cy="240.9" r="1.35" stroke="#ff0000" class="m"/>
<circle cx="290.7" cy="273.2" r="1.35" stroke="#ff0000" class="m"/>
<circle cx="301" cy="266.1" r="1.35" stroke="#ff0000" class="m"/>
<circle cx="308.8" cy="253.8" r="1.35" stroke="#ff0000" class="m"/>
<circle cx="312" cy="255.8" r="1.35" stroke="#ff0000" class="m"/>
<circle cx="312.6" cy="257.1" r="1.35" stroke="#ff0000" class="m"/>
<circle cx="314.6" cy="254.5" r="1.35" stroke="#ff0000" class="m"/>
<circle cx="315.9" cy="253.2" r="1.35" stroke="#ff0000" class="m"/>
<circle cx="317.8" cy="251.3" r="1.35" stroke="#ff0000" class="m"/>
<circle cx="319.1" cy="250.6" r="1.35" stroke="#ff0000" class="m"/>
<circle cx="347.3" cy="217.3" r="1.35" stroke="#ff0000" class="m"/>
<circle cx="346.1" cy="217.9" r="1.35" stroke="#ff0000" class="m"/>
<circle cx="344.8" cy="219.2" r="1.35" stroke="#ff0000" class="m"/>
<circle cx="344.1" cy="218.6" r="1.35" stroke="#ff0000" class="m"/>
<circle cx="346.7" cy="216" r="1.35" stroke="#ff0000" class="m"/>
<circle cx="347.3" cy="228.9" r="1.35" stroke="#ff0000" class="m"/>
<circle cx="337.7" cy="225" r="1.35" stroke="#ff0000" class="m"/>
<circle cx="333.8" cy="227" r="1.35" stroke="#ff0000" class="m"/>
<circle cx="333.1" cy="228.9" r="1.35" stroke="#ff0000" class="m"/>
<circle cx="331.2" cy="230.2" r="1.35" stroke="#ff0000" class="m"/>
<circle cx="338.3" cy="236.7" r="1.35" stroke="#ff0000" class="m"/>
<circle cx="339.6" cy="236" r="1.35" stroke="#ff0000" class="m"/>
<circle cx="338.9" cy="238" r="1.35" stroke="#ff0000" class="m"/>
<circle cx="331.2" cy="237.3" r="1.35" stroke="#ff0000" class="m"/>
<circle cx="332.5" cy="239.9" r="1.35" stroke="#ff0000" class="m"/>
<circle cx="333.8" cy="239.2" r="1.35" stroke="#ff0000" class="m"/>
<circle cx="328" cy="243.1" r="1.35" stroke="#ff0000" class="m"/>
<circle cx="326.7" cy="243.8" r="1.35" stroke="#ff0000" class="m"/>
<circle cx="322.8" cy="247.6" r="1.35" stroke="#ff0000" class="m"/>
<circle cx="318.3" cy="250.9" r="1.35" stroke="#ff0000" class="m"/>
<circle cx="315" cy="253.4" r="1.35" stroke="#ff0000" class="m"/>
<circle cx="313.1" cy="254.1" r="1.35" stroke="#ff0000" class="m"/>
<circle cx="326" cy="234.1" r="1.35" stroke="#ff0000" class="m"/>
<circle cx="327.3" cy="232.8" r="1.35" stroke="#ff0000" class="m"/>
<circle cx="306.14" cy="250.59" r="1.35" stroke="#ff0000" class="m"/>
<circle cx="308.24" cy="250.52" r="1.35" stroke="#ff0000" class="m"/>
<circle cx="309.62" cy="248.64" r="1.35" stroke="#ff0000" class="m"/>
<circle cx="310.54" cy="246.96" r="1.35" stroke="#ff0000" class="m"/>
<circle cx="312.29" cy="245.87" r="1.35" stroke="#ff0000" class="m"/>
<circle cx="313.8" cy="244.72" r="1.35" stroke="#ff0000" class="m"/>
<circle cx="314.89" cy="243.11" r="1.35" stroke="#ff0000" class="m"/>
<circle cx="315.3" cy="241.95" r="1.35" stroke="#ff0000" class="m"/>
<circle cx="317.13" cy="240.31" r="1.35" stroke="#ff0000" class="m"/>
<circle cx="319.04" cy="239.79" r="1.35" stroke="#ff0000" class="m"/>
<circle cx="320.13" cy="239.23" r="1.35" stroke="#ff0000" class="m"/>
<circle cx="321.57" cy="238.13" r="1.35" stroke="#ff0000" class="m"/>
<circle cx="322.73" cy="235.32" r="1.35" stroke="#ff0000" class="m"/>
<circle cx="324.73" cy="234.99" r="1.35" stroke="#ff0000" class="m"/>
<circle cx="325.57" cy="234.13" r="1.35" stroke="#ff0000" class="m"/>
<circle cx="327.32" cy="233.31" r="1.35" stroke="#ff0000" class="m"/>
<circle cx="329.34" cy="231.8" r="1.35" stroke="#ff0000" class="m"/>
</g>
<rect x="267.9" y="295.1" width="76.4" height="33.8" fill="#fff" stroke="#f2f2f2"/>
<circle cx="278" cy="304.3" r="1.2" stroke="#0062ba" stroke-width="1.1"/>
<circle cx="278" cy="319.7" r="1.2" stroke="#ff0000" stroke-width="1.1"/>
<text x="287.8" y="306.8" class="lg">Ch 271.2 kW</text>
<text x="287.8" y="322.2" class="lg">Ch 271.2 kW</text>
<line x1="399.5" x2="534.5" y1="316.5" y2="316.5" stroke="#f0f0f0"/>
<line x1="399.5" x2="534.5" y1="297.5" y2="297.5" stroke="#f0f0f0"/>
<line x1="399.5" x2="534.5" y1="278.5" y2="278.5" stroke="#f0f0f0"/>
<line x1="399.5" x2="534.5" y1="258.5" y2="258.5" stroke="#f0f0f0"/>
<line x1="399.5" x2="534.5" y1="239.5" y2="239.5" stroke="#f0f0f0"/>
<line x1="399.5" x2="534.5" y1="220.5" y2="220.5" stroke="#f0f0f0"/>
<line x1="426.5" x2="426.5" y1="201.5" y2="335.5" stroke="#f0f0f0"/>
<line x1="453.5" x2="453.5" y1="201.5" y2="335.5" stroke="#f0f0f0"/>
<line x1="480.5" x2="480.5" y1="201.5" y2="335.5" stroke="#f0f0f0"/>
<line x1="507.5" x2="507.5" y1="201.5" y2="335.5" stroke="#f0f0f0"/>
<rect x="399.5" y="201.5" width="135" height="134" fill="none" stroke="#d9d9d9"/>
<text x="395.9" y="337.6" text-anchor="end" class="yt">0</text>
<text x="395.9" y="318.46" text-anchor="end" class="yt">1</text>
<text x="395.9" y="299.31" text-anchor="end" class="yt">2</text>
<text x="395.9" y="280.17" text-anchor="end" class="yt">3</text>
<text x="395.9" y="261.03" text-anchor="end" class="yt">4</text>
<text x="395.9" y="241.89" text-anchor="end" class="yt">5</text>
<text x="395.9" y="222.74" text-anchor="end" class="yt">6</text>
<text x="395.9" y="203.6" text-anchor="end" class="yt">7</text>
<text x="399.5" y="348.2" text-anchor="middle" class="xt">0.0</text>
<text x="426.5" y="348.2" text-anchor="middle" class="xt">0.2</text>
<text x="453.5" y="348.2" text-anchor="middle" class="xt">0.4</text>
<text x="480.5" y="348.2" text-anchor="middle" class="xt">0.6</text>
<text x="507.5" y="348.2" text-anchor="middle" class="xt">0.8</text>
<text x="534.5" y="348.2" text-anchor="middle" class="xt">1.0</text>
<text transform="translate(380.9,283.4) rotate(-90)" text-anchor="middle" class="ax" textLength="23.3" lengthAdjust="spacingAndGlyphs">COP</text>
<text x="468" y="362.6" text-anchor="middle" class="ax">PLR</text>
<text x="455.3" y="379.2" text-anchor="middle" class="ti" textLength="74" lengthAdjust="spacingAndGlyphs">Chiller plant #6</text>
<clipPath id="c5"><rect x="399.5" y="198.5" width="138" height="137"/></clipPath><g clip-path="url(#c5)">
<circle cx="409.2" cy="325" r="1.35" stroke="#0062ba" class="m"/>
<circle cx="412.6" cy="320.5" r="1.35" stroke="#0062ba" class="m"/>
<circle cx="414.2" cy="319.6" r="1.35" stroke="#0062ba" class="m"/>
<circle cx="415.1" cy="319.6" r="1.35" stroke="#0062ba" class="m"/>
<circle cx="420.5" cy="312.9" r="1.35" stroke="#0062ba" class="m"/>
<circle cx="421.8" cy="311.2" r="1.35" stroke="#0062ba" class="m"/>
<circle cx="422.6" cy="310" r="1.35" stroke="#0062ba" class="m"/>
<circle cx="426.8" cy="305.7" r="1.35" stroke="#0062ba" class="m"/>
<circle cx="431.4" cy="307" r="1.35" stroke="#0062ba" class="m"/>
<circle cx="440.8" cy="295.8" r="1.35" stroke="#0062ba" class="m"/>
<circle cx="462.1" cy="280.5" r="1.35" stroke="#0062ba" class="m"/>
<circle cx="432.25" cy="299.83" r="1.35" stroke="#0062ba" class="m"/>
<circle cx="433.35" cy="298.68" r="1.35" stroke="#0062ba" class="m"/>
<circle cx="435.72" cy="299.24" r="1.35" stroke="#0062ba" class="m"/>
<circle cx="435.27" cy="297.14" r="1.35" stroke="#0062ba" class="m"/>
<circle cx="436.26" cy="295.3" r="1.35" stroke="#0062ba" class="m"/>
<circle cx="438.42" cy="296.1" r="1.35" stroke="#0062ba" class="m"/>
<circle cx="439.03" cy="293.56" r="1.35" stroke="#0062ba" class="m"/>
<circle cx="440.85" cy="294.35" r="1.35" stroke="#0062ba" class="m"/>
<circle cx="441.29" cy="292.5" r="1.35" stroke="#0062ba" class="m"/>
<circle cx="442.59" cy="291.38" r="1.35" stroke="#0062ba" class="m"/>
<circle cx="444.48" cy="290.84" r="1.35" stroke="#0062ba" class="m"/>
<circle cx="445.13" cy="289.68" r="1.35" stroke="#0062ba" class="m"/>
<circle cx="445.91" cy="288.24" r="1.35" stroke="#0062ba" class="m"/>
<circle cx="445.93" cy="286.6" r="1.35" stroke="#0062ba" class="m"/>
<circle cx="448.25" cy="287.11" r="1.35" stroke="#0062ba" class="m"/>
<circle cx="447.99" cy="284.17" r="1.35" stroke="#0062ba" class="m"/>
<circle cx="449.51" cy="283.36" r="1.35" stroke="#0062ba" class="m"/>
<circle cx="450.8" cy="282.86" r="1.35" stroke="#0062ba" class="m"/>
<circle cx="451.11" cy="281.59" r="1.35" stroke="#0062ba" class="m"/>
<circle cx="452.76" cy="280.8" r="1.35" stroke="#0062ba" class="m"/>
<circle cx="454.4" cy="280.34" r="1.35" stroke="#0062ba" class="m"/>
<circle cx="455.87" cy="279.55" r="1.35" stroke="#0062ba" class="m"/>
<circle cx="457.08" cy="278.91" r="1.35" stroke="#0062ba" class="m"/>
<circle cx="457.99" cy="277.82" r="1.35" stroke="#0062ba" class="m"/>
<circle cx="459.21" cy="276.48" r="1.35" stroke="#0062ba" class="m"/>
<circle cx="459.42" cy="275.37" r="1.35" stroke="#0062ba" class="m"/>
<circle cx="459.94" cy="273.13" r="1.35" stroke="#0062ba" class="m"/>
<circle cx="461.76" cy="273.11" r="1.35" stroke="#0062ba" class="m"/>
<circle cx="461.71" cy="271.26" r="1.35" stroke="#0062ba" class="m"/>
<circle cx="463.99" cy="270.76" r="1.35" stroke="#0062ba" class="m"/>
<circle cx="466.2" cy="270.45" r="1.35" stroke="#0062ba" class="m"/>
<circle cx="467.15" cy="269.44" r="1.35" stroke="#0062ba" class="m"/>
<circle cx="467.73" cy="268.64" r="1.35" stroke="#0062ba" class="m"/>
<circle cx="467.69" cy="266.48" r="1.35" stroke="#0062ba" class="m"/>
<circle cx="469.22" cy="265.54" r="1.35" stroke="#0062ba" class="m"/>
<circle cx="470.62" cy="265.32" r="1.35" stroke="#0062ba" class="m"/>
<circle cx="471.58" cy="262.84" r="1.35" stroke="#0062ba" class="m"/>
<circle cx="473.79" cy="264.05" r="1.35" stroke="#0062ba" class="m"/>
<circle cx="474.27" cy="261.91" r="1.35" stroke="#0062ba" class="m"/>
<circle cx="475.99" cy="261.72" r="1.35" stroke="#0062ba" class="m"/>
<circle cx="476.39" cy="259.81" r="1.35" stroke="#0062ba" class="m"/>
<circle cx="478.14" cy="259.66" r="1.35" stroke="#0062ba" class="m"/>
<circle cx="478.43" cy="258.17" r="1.35" stroke="#0062ba" class="m"/>
<circle cx="479.21" cy="255.87" r="1.35" stroke="#0062ba" class="m"/>
<circle cx="480.73" cy="255.82" r="1.35" stroke="#0062ba" class="m"/>
<circle cx="482.41" cy="255.03" r="1.35" stroke="#0062ba" class="m"/>
<circle cx="483.05" cy="253.69" r="1.35" stroke="#0062ba" class="m"/>
<circle cx="485.27" cy="254.1" r="1.35" stroke="#0062ba" class="m"/>
<circle cx="484.67" cy="251.53" r="1.35" stroke="#0062ba" class="m"/>
<circle cx="485.77" cy="250.45" r="1.35" stroke="#0062ba" class="m"/>
<circle cx="487.37" cy="250.06" r="1.35" stroke="#0062ba" class="m"/>
<circle cx="490.08" cy="250.13" r="1.35" stroke="#0062ba" class="m"/>
<circle cx="489.9" cy="248.61" r="1.35" stroke="#0062ba" class="m"/>
<circle cx="491.91" cy="248.37" r="1.35" stroke="#0062ba" class="m"/>
<circle cx="493.2" cy="246.54" r="1.35" stroke="#0062ba" class="m"/>
<circle cx="493.3" cy="245.7" r="1.35" stroke="#0062ba" class="m"/>
<circle cx="494.8" cy="244.6" r="1.35" stroke="#0062ba" class="m"/>
<circle cx="494.86" cy="242.66" r="1.35" stroke="#0062ba" class="m"/>
<circle cx="497.71" cy="243.18" r="1.35" stroke="#0062ba" class="m"/>
<circle cx="497.85" cy="241.42" r="1.35" stroke="#0062ba" class="m"/>
<circle cx="499.07" cy="240.95" r="1.35" stroke="#0062ba" class="m"/>
<circle cx="500.63" cy="239.43" r="1.35" stroke="#0062ba" class="m"/>
<circle cx="500.64" cy="238.08" r="1.35" stroke="#0062ba" class="m"/>
<circle cx="503.35" cy="237.98" r="1.35" stroke="#0062ba" class="m"/>
<circle cx="503.72" cy="236.94" r="1.35" stroke="#0062ba" class="m"/>
<circle cx="504.84" cy="236.14" r="1.35" stroke="#0062ba" class="m"/>
<circle cx="505.5" cy="234.69" r="1.35" stroke="#0062ba" class="m"/>
<circle cx="507.28" cy="233.86" r="1.35" stroke="#0062ba" class="m"/>
<circle cx="508.67" cy="233.46" r="1.35" stroke="#0062ba" class="m"/>
<circle cx="510.02" cy="232.81" r="1.35" stroke="#0062ba" class="m"/>
<circle cx="511.25" cy="231.08" r="1.35" stroke="#0062ba" class="m"/>
<circle cx="511.95" cy="229.36" r="1.35" stroke="#0062ba" class="m"/>
<circle cx="512.79" cy="227.98" r="1.35" stroke="#0062ba" class="m"/>
<circle cx="513.91" cy="227.57" r="1.35" stroke="#0062ba" class="m"/>
<circle cx="514.93" cy="227.08" r="1.35" stroke="#0062ba" class="m"/>
<circle cx="515.81" cy="225.39" r="1.35" stroke="#0062ba" class="m"/>
<circle cx="518.53" cy="226.53" r="1.35" stroke="#0062ba" class="m"/>
<circle cx="519.63" cy="224.73" r="1.35" stroke="#0062ba" class="m"/>
<circle cx="455.39" cy="276.12" r="1.35" stroke="#0062ba" class="m"/>
<circle cx="457.22" cy="275.6" r="1.35" stroke="#0062ba" class="m"/>
<circle cx="457.96" cy="273.88" r="1.35" stroke="#0062ba" class="m"/>
<circle cx="459.69" cy="273.54" r="1.35" stroke="#0062ba" class="m"/>
<circle cx="460.34" cy="271" r="1.35" stroke="#0062ba" class="m"/>
<circle cx="462.49" cy="270.66" r="1.35" stroke="#0062ba" class="m"/>
<circle cx="463.87" cy="269.16" r="1.35" stroke="#0062ba" class="m"/>
<circle cx="466" cy="268" r="1.35" stroke="#0062ba" class="m"/>
<circle cx="467.64" cy="266.58" r="1.35" stroke="#0062ba" class="m"/>
<circle cx="467.37" cy="264.38" r="1.35" stroke="#0062ba" class="m"/>
<circle cx="468.89" cy="263.47" r="1.35" stroke="#0062ba" class="m"/>
<circle cx="470.34" cy="262.05" r="1.35" stroke="#0062ba" class="m"/>
<circle cx="472.75" cy="260.72" r="1.35" stroke="#0062ba" class="m"/>
<circle cx="473.9" cy="259.86" r="1.35" stroke="#0062ba" class="m"/>
<circle cx="475.15" cy="258.4" r="1.35" stroke="#0062ba" class="m"/>
<circle cx="476.38" cy="256.51" r="1.35" stroke="#0062ba" class="m"/>
<circle cx="479.44" cy="256.04" r="1.35" stroke="#0062ba" class="m"/>
<circle cx="480.03" cy="254.8" r="1.35" stroke="#0062ba" class="m"/>
<circle cx="480.96" cy="253.37" r="1.35" stroke="#0062ba" class="m"/>
<circle cx="483.12" cy="251.68" r="1.35" stroke="#0062ba" class="m"/>
<circle cx="484.3" cy="250.83" r="1.35" stroke="#0062ba" class="m"/>
<circle cx="486.17" cy="249.64" r="1.35" stroke="#0062ba" class="m"/>
<circle cx="488.06" cy="247.86" r="1.35" stroke="#0062ba" class="m"/>
<circle cx="490.09" cy="246.79" r="1.35" stroke="#0062ba" class="m"/>
<circle cx="491.2" cy="246.34" r="1.35" stroke="#0062ba" class="m"/>
<circle cx="492.7" cy="243.92" r="1.35" stroke="#0062ba" class="m"/>
<circle cx="494.43" cy="243.18" r="1.35" stroke="#0062ba" class="m"/>
<circle cx="495.65" cy="241.79" r="1.35" stroke="#0062ba" class="m"/>
<circle cx="497.16" cy="240.24" r="1.35" stroke="#0062ba" class="m"/>
<circle cx="498.88" cy="238.71" r="1.35" stroke="#0062ba" class="m"/>
<circle cx="499.8" cy="236.66" r="1.35" stroke="#0062ba" class="m"/>
<circle cx="501.46" cy="236.17" r="1.35" stroke="#0062ba" class="m"/>
<circle cx="503.12" cy="234.75" r="1.35" stroke="#0062ba" class="m"/>
<circle cx="504.59" cy="233.34" r="1.35" stroke="#0062ba" class="m"/>
<circle cx="506.09" cy="231.75" r="1.35" stroke="#0062ba" class="m"/>
<circle cx="508.22" cy="231.96" r="1.35" stroke="#0062ba" class="m"/>
<circle cx="510.16" cy="230.18" r="1.35" stroke="#0062ba" class="m"/>
<circle cx="511.51" cy="229.32" r="1.35" stroke="#0062ba" class="m"/>
<circle cx="512.63" cy="227.37" r="1.35" stroke="#0062ba" class="m"/>
<circle cx="513.47" cy="226.04" r="1.35" stroke="#0062ba" class="m"/>
<circle cx="516.27" cy="225.23" r="1.35" stroke="#0062ba" class="m"/>
<circle cx="517.58" cy="224.32" r="1.35" stroke="#0062ba" class="m"/>
<circle cx="518.47" cy="221.61" r="1.35" stroke="#0062ba" class="m"/>
<circle cx="520.83" cy="222.19" r="1.35" stroke="#0062ba" class="m"/>
<circle cx="433.34" cy="300.75" r="1.35" stroke="#0062ba" class="m"/>
<circle cx="435.15" cy="300.09" r="1.35" stroke="#0062ba" class="m"/>
<circle cx="436.7" cy="300.21" r="1.35" stroke="#0062ba" class="m"/>
<circle cx="437.77" cy="298.52" r="1.35" stroke="#0062ba" class="m"/>
<circle cx="439.22" cy="297.79" r="1.35" stroke="#0062ba" class="m"/>
<circle cx="439.86" cy="295.7" r="1.35" stroke="#0062ba" class="m"/>
<circle cx="441.62" cy="295.67" r="1.35" stroke="#0062ba" class="m"/>
<circle cx="443.15" cy="294.41" r="1.35" stroke="#0062ba" class="m"/>
<circle cx="443.27" cy="292.81" r="1.35" stroke="#0062ba" class="m"/>
<circle cx="445.58" cy="292.18" r="1.35" stroke="#0062ba" class="m"/>
<circle cx="446.14" cy="290.27" r="1.35" stroke="#0062ba" class="m"/>
<circle cx="447.84" cy="289.51" r="1.35" stroke="#0062ba" class="m"/>
<circle cx="448.11" cy="288.23" r="1.35" stroke="#0062ba" class="m"/>
<circle cx="450.33" cy="287.88" r="1.35" stroke="#0062ba" class="m"/>
<circle cx="450.79" cy="285.87" r="1.35" stroke="#0062ba" class="m"/>
<circle cx="451.58" cy="284.29" r="1.35" stroke="#0062ba" class="m"/>
<circle cx="453.39" cy="284.05" r="1.35" stroke="#0062ba" class="m"/>
<circle cx="455.14" cy="283.25" r="1.35" stroke="#0062ba" class="m"/>
<circle cx="455.47" cy="282.2" r="1.35" stroke="#0062ba" class="m"/>
<circle cx="456.48" cy="280.28" r="1.35" stroke="#0062ba" class="m"/>
<circle cx="476.3" cy="270" r="1.35" stroke="#0062ba" class="m"/>
<circle cx="480.2" cy="265.5" r="1.35" stroke="#0062ba" class="m"/>
<circle cx="487.3" cy="261.6" r="1.35" stroke="#0062ba" class="m"/>
<circle cx="492.5" cy="255.8" r="1.35" stroke="#0062ba" class="m"/>
<circle cx="493.1" cy="257.1" r="1.35" stroke="#0062ba" class="m"/>
<circle cx="499.6" cy="251.9" r="1.35" stroke="#0062ba" class="m"/>
<circle cx="498.3" cy="253.2" r="1.35" stroke="#0062ba" class="m"/>
<circle cx="500.9" cy="249.3" r="1.35" stroke="#0062ba" class="m"/>
<circle cx="502.8" cy="247.4" r="1.35" stroke="#0062ba" class="m"/>
<circle cx="530.8" cy="215.2" r="1.35" stroke="#0062ba" class="m"/>
<circle cx="528.3" cy="216.4" r="1.35" stroke="#0062ba" class="m"/>
<circle cx="521.5" cy="221.1" r="1.35" stroke="#0062ba" class="m"/>
<circle cx="524" cy="223.6" r="1.35" stroke="#0062ba" class="m"/>
<circle cx="525.2" cy="224.2" r="1.35" stroke="#0062ba" class="m"/>
<circle cx="530.8" cy="227.3" r="1.35" stroke="#0062ba" class="m"/>
<circle cx="521.5" cy="233.5" r="1.35" stroke="#0062ba" class="m"/>
<circle cx="514.7" cy="237.9" r="1.35" stroke="#0062ba" class="m"/>
<circle cx="516.5" cy="237.3" r="1.35" stroke="#0062ba" class="m"/>
<circle cx="518.4" cy="236.6" r="1.35" stroke="#0062ba" class="m"/>
<circle cx="509.7" cy="244.7" r="1.35" stroke="#0062ba" class="m"/>
<circle cx="508.5" cy="246" r="1.35" stroke="#0062ba" class="m"/>
<circle cx="506.6" cy="247.2" r="1.35" stroke="#0062ba" class="m"/>
<circle cx="502.9" cy="247.8" r="1.35" stroke="#0062ba" class="m"/>
<circle cx="500.4" cy="249" r="1.35" stroke="#0062ba" class="m"/>
<circle cx="498.5" cy="251.5" r="1.35" stroke="#0062ba" class="m"/>
<circle cx="456.3" cy="286.8" r="1.35" stroke="#ff0000" class="m"/>
<circle cx="443.7" cy="291.9" r="1.35" stroke="#ff0000" class="m"/>
<circle cx="445.3" cy="290.2" r="1.35" stroke="#ff0000" class="m"/>
<circle cx="444.5" cy="291" r="1.35" stroke="#ff0000" class="m"/>
<circle cx="442.8" cy="292.7" r="1.35" stroke="#ff0000" class="m"/>
<circle cx="457.1" cy="281" r="1.35" stroke="#ff0000" class="m"/>
<circle cx="458.8" cy="280.1" r="1.35" stroke="#ff0000" class="m"/>
<circle cx="461.3" cy="277.6" r="1.35" stroke="#ff0000" class="m"/>
<circle cx="463" cy="275.9" r="1.35" stroke="#ff0000" class="m"/>
<circle cx="463.8" cy="271.7" r="1.35" stroke="#ff0000" class="m"/>
<circle cx="462.1" cy="276.5" r="1.35" stroke="#ff0000" class="m"/>
<circle cx="460.8" cy="275.8" r="1.35" stroke="#ff0000" class="m"/>
<circle cx="464.7" cy="271.9" r="1.35" stroke="#ff0000" class="m"/>
<circle cx="466.6" cy="272.6" r="1.35" stroke="#ff0000" class="m"/>
<circle cx="467.9" cy="271.9" r="1.35" stroke="#ff0000" class="m"/>
<circle cx="466" cy="268.1" r="1.35" stroke="#ff0000" class="m"/>
<circle cx="463.4" cy="270" r="1.35" stroke="#ff0000" class="m"/>
<circle cx="470.5" cy="276.5" r="1.35" stroke="#ff0000" class="m"/>
<circle cx="472.4" cy="270.6" r="1.35" stroke="#ff0000" class="m"/>
<circle cx="473.7" cy="266.1" r="1.35" stroke="#ff0000" class="m"/>
<circle cx="474.4" cy="265.5" r="1.35" stroke="#ff0000" class="m"/>
<circle cx="477.6" cy="262.9" r="1.35" stroke="#ff0000" class="m"/>
<circle cx="478.9" cy="261.6" r="1.35" stroke="#ff0000" class="m"/>
<circle cx="482.8" cy="259" r="1.35" stroke="#ff0000" class="m"/>
<circle cx="487.3" cy="255.1" r="1.35" stroke="#ff0000" class="m"/>
<circle cx="487.3" cy="265.5" r="1.35" stroke="#ff0000" class="m"/>
<circle cx="489.2" cy="264.2" r="1.35" stroke="#ff0000" class="m"/>
<circle cx="490.5" cy="262.9" r="1.35" stroke="#ff0000" class="m"/>
<circle cx="491.8" cy="261.6" r="1.35" stroke="#ff0000" class="m"/>
<circle cx="495.1" cy="248.7" r="1.35" stroke="#ff0000" class="m"/>
<circle cx="496.3" cy="257.7" r="1.35" stroke="#ff0000" class="m"/>
<circle cx="499.6" cy="255.8" r="1.35" stroke="#ff0000" class="m"/>
<circle cx="498.9" cy="244.1" r="1.35" stroke="#ff0000" class="m"/>
<circle cx="500.2" cy="243.5" r="1.35" stroke="#ff0000" class="m"/>
<circle cx="501.5" cy="244.8" r="1.35" stroke="#ff0000" class="m"/>
<circle cx="500.9" cy="245.4" r="1.35" stroke="#ff0000" class="m"/>
<circle cx="502.8" cy="251.3" r="1.35" stroke="#ff0000" class="m"/>
<circle cx="528.3" cy="222.4" r="1.35" stroke="#ff0000" class="m"/>
<circle cx="495.4" cy="248.4" r="1.35" stroke="#ff0000" class="m"/>
<circle cx="502.9" cy="251.5" r="1.35" stroke="#ff0000" class="m"/>
<circle cx="507.2" cy="245.3" r="1.35" stroke="#ff0000" class="m"/>
<circle cx="512.8" cy="241.6" r="1.35" stroke="#ff0000" class="m"/>
<circle cx="515.3" cy="242.8" r="1.35" stroke="#ff0000" class="m"/>
<circle cx="512.8" cy="247.8" r="1.35" stroke="#ff0000" class="m"/>
<circle cx="522.1" cy="241" r="1.35" stroke="#ff0000" class="m"/>
<circle cx="524" cy="237.9" r="1.35" stroke="#ff0000" class="m"/>
<circle cx="525.2" cy="238.5" r="1.35" stroke="#ff0000" class="m"/>
<circle cx="526.5" cy="239.1" r="1.35" stroke="#ff0000" class="m"/>
<circle cx="528.3" cy="234.2" r="1.35" stroke="#ff0000" class="m"/>
<circle cx="530.8" cy="235.4" r="1.35" stroke="#ff0000" class="m"/>
<circle cx="532" cy="234.2" r="1.35" stroke="#ff0000" class="m"/>
<circle cx="532.7" cy="232.3" r="1.35" stroke="#ff0000" class="m"/>
<circle cx="519" cy="236" r="1.35" stroke="#ff0000" class="m"/>
<circle cx="498.33" cy="244.25" r="1.35" stroke="#ff0000" class="m"/>
<circle cx="500.01" cy="244.12" r="1.35" stroke="#ff0000" class="m"/>
<circle cx="500.69" cy="242.53" r="1.35" stroke="#ff0000" class="m"/>
<circle cx="502.01" cy="240.87" r="1.35" stroke="#ff0000" class="m"/>
<circle cx="503.8" cy="240.71" r="1.35" stroke="#ff0000" class="m"/>
<circle cx="504.46" cy="239.78" r="1.35" stroke="#ff0000" class="m"/>
<circle cx="505.11" cy="238.22" r="1.35" stroke="#ff0000" class="m"/>
<circle cx="506.61" cy="237.17" r="1.35" stroke="#ff0000" class="m"/>
<circle cx="508.59" cy="237.31" r="1.35" stroke="#ff0000" class="m"/>
<circle cx="507.95" cy="235.53" r="1.35" stroke="#ff0000" class="m"/>
<circle cx="510.44" cy="235.66" r="1.35" stroke="#ff0000" class="m"/>
<circle cx="510.91" cy="234.44" r="1.35" stroke="#ff0000" class="m"/>
<circle cx="512.59" cy="234.15" r="1.35" stroke="#ff0000" class="m"/>
<circle cx="514.29" cy="233.19" r="1.35" stroke="#ff0000" class="m"/>
<circle cx="515.02" cy="232.81" r="1.35" stroke="#ff0000" class="m"/>
<circle cx="516.62" cy="232.24" r="1.35" stroke="#ff0000" class="m"/>
<circle cx="518.04" cy="231.75" r="1.35" stroke="#ff0000" class="m"/>
<circle cx="519.62" cy="230.65" r="1.35" stroke="#ff0000" class="m"/>
<circle cx="520.79" cy="230.03" r="1.35" stroke="#ff0000" class="m"/>
<circle cx="521.02" cy="227.74" r="1.35" stroke="#ff0000" class="m"/>
<circle cx="523.03" cy="227.68" r="1.35" stroke="#ff0000" class="m"/>
</g>
<rect x="450.7" y="293.1" width="75.3" height="31.9" fill="#fff" stroke="#f2f2f2"/>
<circle cx="460.5" cy="302.1" r="1.2" stroke="#0062ba" stroke-width="1.1"/>
<circle cx="460.5" cy="317.6" r="1.2" stroke="#ff0000" stroke-width="1.1"/>
<text x="469.9" y="304.5" class="lg">Ch 271.2 kW</text>
<text x="469.9" y="319.8" class="lg">Ch 310.6 kW</text>
</svg>
</body></html>
